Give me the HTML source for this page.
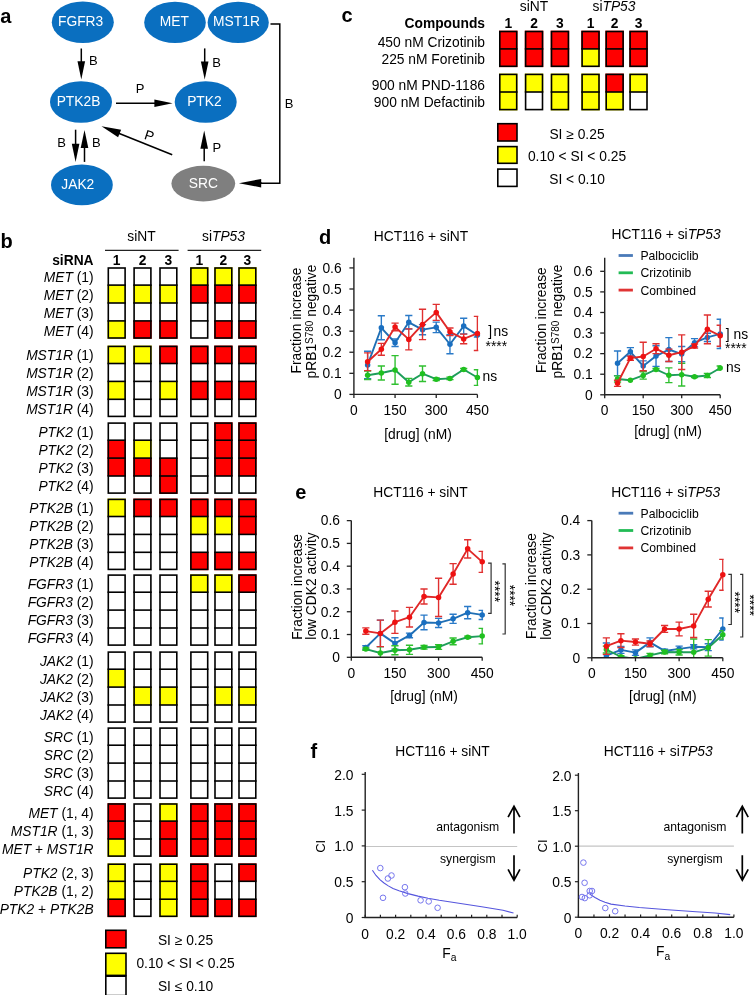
<!DOCTYPE html>
<html><head><meta charset="utf-8"><title>Figure</title>
<style>
html,body{margin:0;padding:0;background:#fff;}
svg{display:block;}
text{font-family:"Liberation Sans",sans-serif;}
</style></head>
<body>
<svg width="754" height="995" viewBox="0 0 754 995" style="font-family:'Liberation Sans',sans-serif;will-change:transform">
<rect x="0" y="0" width="754" height="995" fill="#fff"/>
<ellipse cx="82.8" cy="22.2" rx="31" ry="20.8" fill="#0a6fc0"/>
<text x="80.60" y="26.30" font-size="13.8" text-anchor="middle" fill="#fff" >FGFR3</text>
<ellipse cx="175" cy="22.4" rx="30.8" ry="20.7" fill="#0a6fc0"/>
<text x="174.30" y="26.00" font-size="13.8" text-anchor="middle" fill="#fff" >MET</text>
<ellipse cx="238.2" cy="22.4" rx="30.6" ry="20.7" fill="#0a6fc0"/>
<text x="236.50" y="26.00" font-size="13.8" text-anchor="middle" fill="#fff" >MST1R</text>
<ellipse cx="81" cy="102" rx="31" ry="20.8" fill="#0a6fc0"/>
<text x="78.50" y="106.00" font-size="13.8" text-anchor="middle" fill="#fff" >PTK2B</text>
<ellipse cx="205.7" cy="102" rx="31" ry="20.8" fill="#0a6fc0"/>
<text x="204.40" y="106.00" font-size="13.8" text-anchor="middle" fill="#fff" >PTK2</text>
<ellipse cx="81.9" cy="184.9" rx="30.9" ry="20.4" fill="#0a6fc0"/>
<text x="77.80" y="188.90" font-size="13.8" text-anchor="middle" fill="#fff" >JAK2</text>
<ellipse cx="203.3" cy="183.6" rx="31.9" ry="17.8" fill="#7f7f7f"/>
<text x="203.40" y="188.30" font-size="13.8" text-anchor="middle" fill="#fff" >SRC</text>
<line x1="81.30" y1="48.50" x2="81.30" y2="62.30" stroke="#000" stroke-width="1.5"/>
<polygon points="81.30,79.50 77.50,61.30 85.10,61.30" fill="#000"/>
<line x1="204.70" y1="48.40" x2="204.70" y2="62.40" stroke="#000" stroke-width="1.5"/>
<polygon points="204.70,79.60 200.90,61.40 208.50,61.40" fill="#000"/>
<line x1="116.00" y1="103.20" x2="155.40" y2="103.20" stroke="#000" stroke-width="1.5"/>
<polygon points="172.60,103.20 154.40,107.00 154.40,99.40" fill="#000"/>
<line x1="75.60" y1="129.70" x2="75.60" y2="144.70" stroke="#000" stroke-width="1.5"/>
<polygon points="75.60,161.90 71.80,143.70 79.40,143.70" fill="#000"/>
<line x1="84.50" y1="161.90" x2="84.50" y2="147.10" stroke="#000" stroke-width="1.5"/>
<polygon points="84.50,129.90 88.30,148.10 80.70,148.10" fill="#000"/>
<line x1="172.20" y1="154.70" x2="118.67" y2="133.20" stroke="#000" stroke-width="1.5"/>
<polygon points="101.50,126.30 121.12,129.76 118.07,137.37" fill="#000"/>
<line x1="204.20" y1="161.30" x2="204.20" y2="147.80" stroke="#000" stroke-width="1.5"/>
<polygon points="204.20,130.60 208.00,148.80 200.40,148.80" fill="#000"/>
<polyline points="270.5,24 279.8,24 279.8,183.2 260,183.2" fill="none" stroke="#000" stroke-width="1.5"/>
<line x1="262.00" y1="183.20" x2="260.20" y2="183.20" stroke="#000" stroke-width="1.5"/>
<polygon points="238.90,183.20 261.20,179.00 261.20,187.40" fill="#000"/>
<text x="89.00" y="64.60" font-size="13" text-anchor="start" fill="#000" >B</text>
<text x="212.20" y="66.70" font-size="13" text-anchor="start" fill="#000" >B</text>
<text x="135.80" y="93.30" font-size="13" text-anchor="start" fill="#000" >P</text>
<text x="57.30" y="147.10" font-size="13" text-anchor="start" fill="#000" >B</text>
<text x="91.90" y="147.10" font-size="13" text-anchor="start" fill="#000" >B</text>
<text x="212.40" y="152.00" font-size="13" text-anchor="start" fill="#000" >P</text>
<text x="284.80" y="108.30" font-size="13" text-anchor="start" fill="#000" >B</text>
<text x="0" y="0" font-size="13.8" transform="translate(143.5,138.7) rotate(18)">P</text>
<text x="0.30" y="23.40" font-size="20" text-anchor="start" font-weight="bold" fill="#000" >a</text>
<text x="0.40" y="247.60" font-size="20" text-anchor="start" font-weight="bold" fill="#000" >b</text>
<text x="341.60" y="21.50" font-size="20" text-anchor="start" font-weight="bold" fill="#000" >c</text>
<text x="319.10" y="243.60" font-size="20" text-anchor="start" font-weight="bold" fill="#000" >d</text>
<text x="295.20" y="499.00" font-size="20" text-anchor="start" font-weight="bold" fill="#000" >e</text>
<text x="310.60" y="758.40" font-size="20" text-anchor="start" font-weight="bold" fill="#000" >f</text>
<rect x="107.50" y="267.20" width="18.40" height="17.90" fill="#ffffff"/>
<rect x="107.50" y="285.10" width="18.40" height="17.90" fill="#ffff00"/>
<rect x="107.50" y="303.00" width="18.40" height="17.90" fill="#ffffff"/>
<rect x="107.50" y="320.90" width="18.40" height="17.90" fill="#ffff00"/>
<line x1="107.50" y1="285.10" x2="125.90" y2="285.10" stroke="#000" stroke-width="1.6"/>
<line x1="107.50" y1="303.00" x2="125.90" y2="303.00" stroke="#000" stroke-width="1.6"/>
<line x1="107.50" y1="320.90" x2="125.90" y2="320.90" stroke="#000" stroke-width="1.6"/>
<rect x="108.30" y="268.00" width="16.80" height="70.00" fill="none" stroke="#000" stroke-width="1.6"/>
<rect x="133.30" y="267.20" width="18.40" height="17.90" fill="#ffffff"/>
<rect x="133.30" y="285.10" width="18.40" height="17.90" fill="#ffff00"/>
<rect x="133.30" y="303.00" width="18.40" height="17.90" fill="#ffffff"/>
<rect x="133.30" y="320.90" width="18.40" height="17.90" fill="#ff0000"/>
<line x1="133.30" y1="285.10" x2="151.70" y2="285.10" stroke="#000" stroke-width="1.6"/>
<line x1="133.30" y1="303.00" x2="151.70" y2="303.00" stroke="#000" stroke-width="1.6"/>
<line x1="133.30" y1="320.90" x2="151.70" y2="320.90" stroke="#000" stroke-width="1.6"/>
<rect x="134.10" y="268.00" width="16.80" height="70.00" fill="none" stroke="#000" stroke-width="1.6"/>
<rect x="159.20" y="267.20" width="18.40" height="17.90" fill="#ffffff"/>
<rect x="159.20" y="285.10" width="18.40" height="17.90" fill="#ffff00"/>
<rect x="159.20" y="303.00" width="18.40" height="17.90" fill="#ffffff"/>
<rect x="159.20" y="320.90" width="18.40" height="17.90" fill="#ff0000"/>
<line x1="159.20" y1="285.10" x2="177.60" y2="285.10" stroke="#000" stroke-width="1.6"/>
<line x1="159.20" y1="303.00" x2="177.60" y2="303.00" stroke="#000" stroke-width="1.6"/>
<line x1="159.20" y1="320.90" x2="177.60" y2="320.90" stroke="#000" stroke-width="1.6"/>
<rect x="160.00" y="268.00" width="16.80" height="70.00" fill="none" stroke="#000" stroke-width="1.6"/>
<rect x="190.10" y="267.20" width="18.40" height="17.90" fill="#ffff00"/>
<rect x="190.10" y="285.10" width="18.40" height="17.90" fill="#ff0000"/>
<rect x="190.10" y="303.00" width="18.40" height="17.90" fill="#ffffff"/>
<rect x="190.10" y="320.90" width="18.40" height="17.90" fill="#ffffff"/>
<line x1="190.10" y1="285.10" x2="208.50" y2="285.10" stroke="#000" stroke-width="1.6"/>
<line x1="190.10" y1="303.00" x2="208.50" y2="303.00" stroke="#000" stroke-width="1.6"/>
<line x1="190.10" y1="320.90" x2="208.50" y2="320.90" stroke="#000" stroke-width="1.6"/>
<rect x="190.90" y="268.00" width="16.80" height="70.00" fill="none" stroke="#000" stroke-width="1.6"/>
<rect x="214.20" y="267.20" width="18.40" height="17.90" fill="#ffff00"/>
<rect x="214.20" y="285.10" width="18.40" height="17.90" fill="#ff0000"/>
<rect x="214.20" y="303.00" width="18.40" height="17.90" fill="#ffffff"/>
<rect x="214.20" y="320.90" width="18.40" height="17.90" fill="#ff0000"/>
<line x1="214.20" y1="285.10" x2="232.60" y2="285.10" stroke="#000" stroke-width="1.6"/>
<line x1="214.20" y1="303.00" x2="232.60" y2="303.00" stroke="#000" stroke-width="1.6"/>
<line x1="214.20" y1="320.90" x2="232.60" y2="320.90" stroke="#000" stroke-width="1.6"/>
<rect x="215.00" y="268.00" width="16.80" height="70.00" fill="none" stroke="#000" stroke-width="1.6"/>
<rect x="238.20" y="267.20" width="18.40" height="17.90" fill="#ffff00"/>
<rect x="238.20" y="285.10" width="18.40" height="17.90" fill="#ff0000"/>
<rect x="238.20" y="303.00" width="18.40" height="17.90" fill="#ffffff"/>
<rect x="238.20" y="320.90" width="18.40" height="17.90" fill="#ff0000"/>
<line x1="238.20" y1="285.10" x2="256.60" y2="285.10" stroke="#000" stroke-width="1.6"/>
<line x1="238.20" y1="303.00" x2="256.60" y2="303.00" stroke="#000" stroke-width="1.6"/>
<line x1="238.20" y1="320.90" x2="256.60" y2="320.90" stroke="#000" stroke-width="1.6"/>
<rect x="239.00" y="268.00" width="16.80" height="70.00" fill="none" stroke="#000" stroke-width="1.6"/>
<text x="93.6" y="282.05" font-size="13.8" text-anchor="end"><tspan font-style="italic">MET</tspan> (1)</text>
<text x="93.6" y="299.95" font-size="13.8" text-anchor="end"><tspan font-style="italic">MET</tspan> (2)</text>
<text x="93.6" y="317.85" font-size="13.8" text-anchor="end"><tspan font-style="italic">MET</tspan> (3)</text>
<text x="93.6" y="335.75" font-size="13.8" text-anchor="end"><tspan font-style="italic">MET</tspan> (4)</text>
<rect x="107.50" y="345.60" width="18.40" height="17.90" fill="#ffff00"/>
<rect x="107.50" y="363.50" width="18.40" height="17.90" fill="#ffffff"/>
<rect x="107.50" y="381.40" width="18.40" height="17.90" fill="#ffff00"/>
<rect x="107.50" y="399.30" width="18.40" height="17.90" fill="#ffffff"/>
<line x1="107.50" y1="363.50" x2="125.90" y2="363.50" stroke="#000" stroke-width="1.6"/>
<line x1="107.50" y1="381.40" x2="125.90" y2="381.40" stroke="#000" stroke-width="1.6"/>
<line x1="107.50" y1="399.30" x2="125.90" y2="399.30" stroke="#000" stroke-width="1.6"/>
<rect x="108.30" y="346.40" width="16.80" height="70.00" fill="none" stroke="#000" stroke-width="1.6"/>
<rect x="133.30" y="345.60" width="18.40" height="17.90" fill="#ffff00"/>
<rect x="133.30" y="363.50" width="18.40" height="17.90" fill="#ffffff"/>
<rect x="133.30" y="381.40" width="18.40" height="17.90" fill="#ffffff"/>
<rect x="133.30" y="399.30" width="18.40" height="17.90" fill="#ffffff"/>
<line x1="133.30" y1="363.50" x2="151.70" y2="363.50" stroke="#000" stroke-width="1.6"/>
<line x1="133.30" y1="381.40" x2="151.70" y2="381.40" stroke="#000" stroke-width="1.6"/>
<line x1="133.30" y1="399.30" x2="151.70" y2="399.30" stroke="#000" stroke-width="1.6"/>
<rect x="134.10" y="346.40" width="16.80" height="70.00" fill="none" stroke="#000" stroke-width="1.6"/>
<rect x="159.20" y="345.60" width="18.40" height="17.90" fill="#ff0000"/>
<rect x="159.20" y="363.50" width="18.40" height="17.90" fill="#ffffff"/>
<rect x="159.20" y="381.40" width="18.40" height="17.90" fill="#ffff00"/>
<rect x="159.20" y="399.30" width="18.40" height="17.90" fill="#ffffff"/>
<line x1="159.20" y1="363.50" x2="177.60" y2="363.50" stroke="#000" stroke-width="1.6"/>
<line x1="159.20" y1="381.40" x2="177.60" y2="381.40" stroke="#000" stroke-width="1.6"/>
<line x1="159.20" y1="399.30" x2="177.60" y2="399.30" stroke="#000" stroke-width="1.6"/>
<rect x="160.00" y="346.40" width="16.80" height="70.00" fill="none" stroke="#000" stroke-width="1.6"/>
<rect x="190.10" y="345.60" width="18.40" height="17.90" fill="#ff0000"/>
<rect x="190.10" y="363.50" width="18.40" height="17.90" fill="#ffffff"/>
<rect x="190.10" y="381.40" width="18.40" height="17.90" fill="#ff0000"/>
<rect x="190.10" y="399.30" width="18.40" height="17.90" fill="#ffffff"/>
<line x1="190.10" y1="363.50" x2="208.50" y2="363.50" stroke="#000" stroke-width="1.6"/>
<line x1="190.10" y1="381.40" x2="208.50" y2="381.40" stroke="#000" stroke-width="1.6"/>
<line x1="190.10" y1="399.30" x2="208.50" y2="399.30" stroke="#000" stroke-width="1.6"/>
<rect x="190.90" y="346.40" width="16.80" height="70.00" fill="none" stroke="#000" stroke-width="1.6"/>
<rect x="214.20" y="345.60" width="18.40" height="17.90" fill="#ff0000"/>
<rect x="214.20" y="363.50" width="18.40" height="17.90" fill="#ffffff"/>
<rect x="214.20" y="381.40" width="18.40" height="17.90" fill="#ff0000"/>
<rect x="214.20" y="399.30" width="18.40" height="17.90" fill="#ffffff"/>
<line x1="214.20" y1="363.50" x2="232.60" y2="363.50" stroke="#000" stroke-width="1.6"/>
<line x1="214.20" y1="381.40" x2="232.60" y2="381.40" stroke="#000" stroke-width="1.6"/>
<line x1="214.20" y1="399.30" x2="232.60" y2="399.30" stroke="#000" stroke-width="1.6"/>
<rect x="215.00" y="346.40" width="16.80" height="70.00" fill="none" stroke="#000" stroke-width="1.6"/>
<rect x="238.20" y="345.60" width="18.40" height="17.90" fill="#ff0000"/>
<rect x="238.20" y="363.50" width="18.40" height="17.90" fill="#ffffff"/>
<rect x="238.20" y="381.40" width="18.40" height="17.90" fill="#ff0000"/>
<rect x="238.20" y="399.30" width="18.40" height="17.90" fill="#ffffff"/>
<line x1="238.20" y1="363.50" x2="256.60" y2="363.50" stroke="#000" stroke-width="1.6"/>
<line x1="238.20" y1="381.40" x2="256.60" y2="381.40" stroke="#000" stroke-width="1.6"/>
<line x1="238.20" y1="399.30" x2="256.60" y2="399.30" stroke="#000" stroke-width="1.6"/>
<rect x="239.00" y="346.40" width="16.80" height="70.00" fill="none" stroke="#000" stroke-width="1.6"/>
<text x="93.6" y="360.45" font-size="13.8" text-anchor="end"><tspan font-style="italic">MST1R</tspan> (1)</text>
<text x="93.6" y="378.35" font-size="13.8" text-anchor="end"><tspan font-style="italic">MST1R</tspan> (2)</text>
<text x="93.6" y="396.25" font-size="13.8" text-anchor="end"><tspan font-style="italic">MST1R</tspan> (3)</text>
<text x="93.6" y="414.15" font-size="13.8" text-anchor="end"><tspan font-style="italic">MST1R</tspan> (4)</text>
<rect x="107.50" y="422.30" width="18.40" height="17.90" fill="#ffffff"/>
<rect x="107.50" y="440.20" width="18.40" height="17.90" fill="#ff0000"/>
<rect x="107.50" y="458.10" width="18.40" height="17.90" fill="#ff0000"/>
<rect x="107.50" y="476.00" width="18.40" height="17.90" fill="#ffffff"/>
<line x1="107.50" y1="440.20" x2="125.90" y2="440.20" stroke="#000" stroke-width="1.6"/>
<line x1="107.50" y1="458.10" x2="125.90" y2="458.10" stroke="#000" stroke-width="1.6"/>
<line x1="107.50" y1="476.00" x2="125.90" y2="476.00" stroke="#000" stroke-width="1.6"/>
<rect x="108.30" y="423.10" width="16.80" height="70.00" fill="none" stroke="#000" stroke-width="1.6"/>
<rect x="133.30" y="422.30" width="18.40" height="17.90" fill="#ffffff"/>
<rect x="133.30" y="440.20" width="18.40" height="17.90" fill="#ffff00"/>
<rect x="133.30" y="458.10" width="18.40" height="17.90" fill="#ff0000"/>
<rect x="133.30" y="476.00" width="18.40" height="17.90" fill="#ffffff"/>
<line x1="133.30" y1="440.20" x2="151.70" y2="440.20" stroke="#000" stroke-width="1.6"/>
<line x1="133.30" y1="458.10" x2="151.70" y2="458.10" stroke="#000" stroke-width="1.6"/>
<line x1="133.30" y1="476.00" x2="151.70" y2="476.00" stroke="#000" stroke-width="1.6"/>
<rect x="134.10" y="423.10" width="16.80" height="70.00" fill="none" stroke="#000" stroke-width="1.6"/>
<rect x="159.20" y="422.30" width="18.40" height="17.90" fill="#ffffff"/>
<rect x="159.20" y="440.20" width="18.40" height="17.90" fill="#ffffff"/>
<rect x="159.20" y="458.10" width="18.40" height="17.90" fill="#ff0000"/>
<rect x="159.20" y="476.00" width="18.40" height="17.90" fill="#ff0000"/>
<line x1="159.20" y1="440.20" x2="177.60" y2="440.20" stroke="#000" stroke-width="1.6"/>
<line x1="159.20" y1="458.10" x2="177.60" y2="458.10" stroke="#000" stroke-width="1.6"/>
<line x1="159.20" y1="476.00" x2="177.60" y2="476.00" stroke="#000" stroke-width="1.6"/>
<rect x="160.00" y="423.10" width="16.80" height="70.00" fill="none" stroke="#000" stroke-width="1.6"/>
<rect x="190.10" y="422.30" width="18.40" height="17.90" fill="#ffffff"/>
<rect x="190.10" y="440.20" width="18.40" height="17.90" fill="#ffffff"/>
<rect x="190.10" y="458.10" width="18.40" height="17.90" fill="#ffffff"/>
<rect x="190.10" y="476.00" width="18.40" height="17.90" fill="#ffffff"/>
<line x1="190.10" y1="440.20" x2="208.50" y2="440.20" stroke="#000" stroke-width="1.6"/>
<line x1="190.10" y1="458.10" x2="208.50" y2="458.10" stroke="#000" stroke-width="1.6"/>
<line x1="190.10" y1="476.00" x2="208.50" y2="476.00" stroke="#000" stroke-width="1.6"/>
<rect x="190.90" y="423.10" width="16.80" height="70.00" fill="none" stroke="#000" stroke-width="1.6"/>
<rect x="214.20" y="422.30" width="18.40" height="17.90" fill="#ff0000"/>
<rect x="214.20" y="440.20" width="18.40" height="17.90" fill="#ff0000"/>
<rect x="214.20" y="458.10" width="18.40" height="17.90" fill="#ff0000"/>
<rect x="214.20" y="476.00" width="18.40" height="17.90" fill="#ffffff"/>
<line x1="214.20" y1="440.20" x2="232.60" y2="440.20" stroke="#000" stroke-width="1.6"/>
<line x1="214.20" y1="458.10" x2="232.60" y2="458.10" stroke="#000" stroke-width="1.6"/>
<line x1="214.20" y1="476.00" x2="232.60" y2="476.00" stroke="#000" stroke-width="1.6"/>
<rect x="215.00" y="423.10" width="16.80" height="70.00" fill="none" stroke="#000" stroke-width="1.6"/>
<rect x="238.20" y="422.30" width="18.40" height="17.90" fill="#ff0000"/>
<rect x="238.20" y="440.20" width="18.40" height="17.90" fill="#ff0000"/>
<rect x="238.20" y="458.10" width="18.40" height="17.90" fill="#ff0000"/>
<rect x="238.20" y="476.00" width="18.40" height="17.90" fill="#ffffff"/>
<line x1="238.20" y1="440.20" x2="256.60" y2="440.20" stroke="#000" stroke-width="1.6"/>
<line x1="238.20" y1="458.10" x2="256.60" y2="458.10" stroke="#000" stroke-width="1.6"/>
<line x1="238.20" y1="476.00" x2="256.60" y2="476.00" stroke="#000" stroke-width="1.6"/>
<rect x="239.00" y="423.10" width="16.80" height="70.00" fill="none" stroke="#000" stroke-width="1.6"/>
<text x="93.6" y="437.15" font-size="13.8" text-anchor="end"><tspan font-style="italic">PTK2</tspan> (1)</text>
<text x="93.6" y="455.05" font-size="13.8" text-anchor="end"><tspan font-style="italic">PTK2</tspan> (2)</text>
<text x="93.6" y="472.95" font-size="13.8" text-anchor="end"><tspan font-style="italic">PTK2</tspan> (3)</text>
<text x="93.6" y="490.85" font-size="13.8" text-anchor="end"><tspan font-style="italic">PTK2</tspan> (4)</text>
<rect x="107.50" y="498.60" width="18.40" height="17.90" fill="#ffff00"/>
<rect x="107.50" y="516.50" width="18.40" height="17.90" fill="#ffffff"/>
<rect x="107.50" y="534.40" width="18.40" height="17.90" fill="#ffffff"/>
<rect x="107.50" y="552.30" width="18.40" height="17.90" fill="#ffffff"/>
<line x1="107.50" y1="516.50" x2="125.90" y2="516.50" stroke="#000" stroke-width="1.6"/>
<line x1="107.50" y1="534.40" x2="125.90" y2="534.40" stroke="#000" stroke-width="1.6"/>
<line x1="107.50" y1="552.30" x2="125.90" y2="552.30" stroke="#000" stroke-width="1.6"/>
<rect x="108.30" y="499.40" width="16.80" height="70.00" fill="none" stroke="#000" stroke-width="1.6"/>
<rect x="133.30" y="498.60" width="18.40" height="17.90" fill="#ff0000"/>
<rect x="133.30" y="516.50" width="18.40" height="17.90" fill="#ffffff"/>
<rect x="133.30" y="534.40" width="18.40" height="17.90" fill="#ffffff"/>
<rect x="133.30" y="552.30" width="18.40" height="17.90" fill="#ffffff"/>
<line x1="133.30" y1="516.50" x2="151.70" y2="516.50" stroke="#000" stroke-width="1.6"/>
<line x1="133.30" y1="534.40" x2="151.70" y2="534.40" stroke="#000" stroke-width="1.6"/>
<line x1="133.30" y1="552.30" x2="151.70" y2="552.30" stroke="#000" stroke-width="1.6"/>
<rect x="134.10" y="499.40" width="16.80" height="70.00" fill="none" stroke="#000" stroke-width="1.6"/>
<rect x="159.20" y="498.60" width="18.40" height="17.90" fill="#ff0000"/>
<rect x="159.20" y="516.50" width="18.40" height="17.90" fill="#ffffff"/>
<rect x="159.20" y="534.40" width="18.40" height="17.90" fill="#ffffff"/>
<rect x="159.20" y="552.30" width="18.40" height="17.90" fill="#ffffff"/>
<line x1="159.20" y1="516.50" x2="177.60" y2="516.50" stroke="#000" stroke-width="1.6"/>
<line x1="159.20" y1="534.40" x2="177.60" y2="534.40" stroke="#000" stroke-width="1.6"/>
<line x1="159.20" y1="552.30" x2="177.60" y2="552.30" stroke="#000" stroke-width="1.6"/>
<rect x="160.00" y="499.40" width="16.80" height="70.00" fill="none" stroke="#000" stroke-width="1.6"/>
<rect x="190.10" y="498.60" width="18.40" height="17.90" fill="#ff0000"/>
<rect x="190.10" y="516.50" width="18.40" height="17.90" fill="#ffff00"/>
<rect x="190.10" y="534.40" width="18.40" height="17.90" fill="#ffffff"/>
<rect x="190.10" y="552.30" width="18.40" height="17.90" fill="#ff0000"/>
<line x1="190.10" y1="516.50" x2="208.50" y2="516.50" stroke="#000" stroke-width="1.6"/>
<line x1="190.10" y1="534.40" x2="208.50" y2="534.40" stroke="#000" stroke-width="1.6"/>
<line x1="190.10" y1="552.30" x2="208.50" y2="552.30" stroke="#000" stroke-width="1.6"/>
<rect x="190.90" y="499.40" width="16.80" height="70.00" fill="none" stroke="#000" stroke-width="1.6"/>
<rect x="214.20" y="498.60" width="18.40" height="17.90" fill="#ff0000"/>
<rect x="214.20" y="516.50" width="18.40" height="17.90" fill="#ffff00"/>
<rect x="214.20" y="534.40" width="18.40" height="17.90" fill="#ffffff"/>
<rect x="214.20" y="552.30" width="18.40" height="17.90" fill="#ff0000"/>
<line x1="214.20" y1="516.50" x2="232.60" y2="516.50" stroke="#000" stroke-width="1.6"/>
<line x1="214.20" y1="534.40" x2="232.60" y2="534.40" stroke="#000" stroke-width="1.6"/>
<line x1="214.20" y1="552.30" x2="232.60" y2="552.30" stroke="#000" stroke-width="1.6"/>
<rect x="215.00" y="499.40" width="16.80" height="70.00" fill="none" stroke="#000" stroke-width="1.6"/>
<rect x="238.20" y="498.60" width="18.40" height="17.90" fill="#ff0000"/>
<rect x="238.20" y="516.50" width="18.40" height="17.90" fill="#ff0000"/>
<rect x="238.20" y="534.40" width="18.40" height="17.90" fill="#ffffff"/>
<rect x="238.20" y="552.30" width="18.40" height="17.90" fill="#ff0000"/>
<line x1="238.20" y1="516.50" x2="256.60" y2="516.50" stroke="#000" stroke-width="1.6"/>
<line x1="238.20" y1="534.40" x2="256.60" y2="534.40" stroke="#000" stroke-width="1.6"/>
<line x1="238.20" y1="552.30" x2="256.60" y2="552.30" stroke="#000" stroke-width="1.6"/>
<rect x="239.00" y="499.40" width="16.80" height="70.00" fill="none" stroke="#000" stroke-width="1.6"/>
<text x="93.6" y="513.45" font-size="13.8" text-anchor="end"><tspan font-style="italic">PTK2B</tspan> (1)</text>
<text x="93.6" y="531.35" font-size="13.8" text-anchor="end"><tspan font-style="italic">PTK2B</tspan> (2)</text>
<text x="93.6" y="549.25" font-size="13.8" text-anchor="end"><tspan font-style="italic">PTK2B</tspan> (3)</text>
<text x="93.6" y="567.15" font-size="13.8" text-anchor="end"><tspan font-style="italic">PTK2B</tspan> (4)</text>
<rect x="107.50" y="574.30" width="18.40" height="17.90" fill="#ffffff"/>
<rect x="107.50" y="592.20" width="18.40" height="17.90" fill="#ffffff"/>
<rect x="107.50" y="610.10" width="18.40" height="17.90" fill="#ffffff"/>
<rect x="107.50" y="628.00" width="18.40" height="17.90" fill="#ffffff"/>
<line x1="107.50" y1="592.20" x2="125.90" y2="592.20" stroke="#000" stroke-width="1.6"/>
<line x1="107.50" y1="610.10" x2="125.90" y2="610.10" stroke="#000" stroke-width="1.6"/>
<line x1="107.50" y1="628.00" x2="125.90" y2="628.00" stroke="#000" stroke-width="1.6"/>
<rect x="108.30" y="575.10" width="16.80" height="70.00" fill="none" stroke="#000" stroke-width="1.6"/>
<rect x="133.30" y="574.30" width="18.40" height="17.90" fill="#ffffff"/>
<rect x="133.30" y="592.20" width="18.40" height="17.90" fill="#ffffff"/>
<rect x="133.30" y="610.10" width="18.40" height="17.90" fill="#ffffff"/>
<rect x="133.30" y="628.00" width="18.40" height="17.90" fill="#ffffff"/>
<line x1="133.30" y1="592.20" x2="151.70" y2="592.20" stroke="#000" stroke-width="1.6"/>
<line x1="133.30" y1="610.10" x2="151.70" y2="610.10" stroke="#000" stroke-width="1.6"/>
<line x1="133.30" y1="628.00" x2="151.70" y2="628.00" stroke="#000" stroke-width="1.6"/>
<rect x="134.10" y="575.10" width="16.80" height="70.00" fill="none" stroke="#000" stroke-width="1.6"/>
<rect x="159.20" y="574.30" width="18.40" height="17.90" fill="#ffffff"/>
<rect x="159.20" y="592.20" width="18.40" height="17.90" fill="#ffffff"/>
<rect x="159.20" y="610.10" width="18.40" height="17.90" fill="#ffffff"/>
<rect x="159.20" y="628.00" width="18.40" height="17.90" fill="#ffffff"/>
<line x1="159.20" y1="592.20" x2="177.60" y2="592.20" stroke="#000" stroke-width="1.6"/>
<line x1="159.20" y1="610.10" x2="177.60" y2="610.10" stroke="#000" stroke-width="1.6"/>
<line x1="159.20" y1="628.00" x2="177.60" y2="628.00" stroke="#000" stroke-width="1.6"/>
<rect x="160.00" y="575.10" width="16.80" height="70.00" fill="none" stroke="#000" stroke-width="1.6"/>
<rect x="190.10" y="574.30" width="18.40" height="17.90" fill="#ffff00"/>
<rect x="190.10" y="592.20" width="18.40" height="17.90" fill="#ffffff"/>
<rect x="190.10" y="610.10" width="18.40" height="17.90" fill="#ffffff"/>
<rect x="190.10" y="628.00" width="18.40" height="17.90" fill="#ffffff"/>
<line x1="190.10" y1="592.20" x2="208.50" y2="592.20" stroke="#000" stroke-width="1.6"/>
<line x1="190.10" y1="610.10" x2="208.50" y2="610.10" stroke="#000" stroke-width="1.6"/>
<line x1="190.10" y1="628.00" x2="208.50" y2="628.00" stroke="#000" stroke-width="1.6"/>
<rect x="190.90" y="575.10" width="16.80" height="70.00" fill="none" stroke="#000" stroke-width="1.6"/>
<rect x="214.20" y="574.30" width="18.40" height="17.90" fill="#ffff00"/>
<rect x="214.20" y="592.20" width="18.40" height="17.90" fill="#ffffff"/>
<rect x="214.20" y="610.10" width="18.40" height="17.90" fill="#ffffff"/>
<rect x="214.20" y="628.00" width="18.40" height="17.90" fill="#ffffff"/>
<line x1="214.20" y1="592.20" x2="232.60" y2="592.20" stroke="#000" stroke-width="1.6"/>
<line x1="214.20" y1="610.10" x2="232.60" y2="610.10" stroke="#000" stroke-width="1.6"/>
<line x1="214.20" y1="628.00" x2="232.60" y2="628.00" stroke="#000" stroke-width="1.6"/>
<rect x="215.00" y="575.10" width="16.80" height="70.00" fill="none" stroke="#000" stroke-width="1.6"/>
<rect x="238.20" y="574.30" width="18.40" height="17.90" fill="#ff0000"/>
<rect x="238.20" y="592.20" width="18.40" height="17.90" fill="#ffffff"/>
<rect x="238.20" y="610.10" width="18.40" height="17.90" fill="#ffffff"/>
<rect x="238.20" y="628.00" width="18.40" height="17.90" fill="#ffffff"/>
<line x1="238.20" y1="592.20" x2="256.60" y2="592.20" stroke="#000" stroke-width="1.6"/>
<line x1="238.20" y1="610.10" x2="256.60" y2="610.10" stroke="#000" stroke-width="1.6"/>
<line x1="238.20" y1="628.00" x2="256.60" y2="628.00" stroke="#000" stroke-width="1.6"/>
<rect x="239.00" y="575.10" width="16.80" height="70.00" fill="none" stroke="#000" stroke-width="1.6"/>
<text x="93.6" y="589.15" font-size="13.8" text-anchor="end"><tspan font-style="italic">FGFR3</tspan> (1)</text>
<text x="93.6" y="607.05" font-size="13.8" text-anchor="end"><tspan font-style="italic">FGFR3</tspan> (2)</text>
<text x="93.6" y="624.95" font-size="13.8" text-anchor="end"><tspan font-style="italic">FGFR3</tspan> (3)</text>
<text x="93.6" y="642.85" font-size="13.8" text-anchor="end"><tspan font-style="italic">FGFR3</tspan> (4)</text>
<rect x="107.50" y="651.30" width="18.40" height="17.90" fill="#ffffff"/>
<rect x="107.50" y="669.20" width="18.40" height="17.90" fill="#ffff00"/>
<rect x="107.50" y="687.10" width="18.40" height="17.90" fill="#ffffff"/>
<rect x="107.50" y="705.00" width="18.40" height="17.90" fill="#ffffff"/>
<line x1="107.50" y1="669.20" x2="125.90" y2="669.20" stroke="#000" stroke-width="1.6"/>
<line x1="107.50" y1="687.10" x2="125.90" y2="687.10" stroke="#000" stroke-width="1.6"/>
<line x1="107.50" y1="705.00" x2="125.90" y2="705.00" stroke="#000" stroke-width="1.6"/>
<rect x="108.30" y="652.10" width="16.80" height="70.00" fill="none" stroke="#000" stroke-width="1.6"/>
<rect x="133.30" y="651.30" width="18.40" height="17.90" fill="#ffffff"/>
<rect x="133.30" y="669.20" width="18.40" height="17.90" fill="#ffffff"/>
<rect x="133.30" y="687.10" width="18.40" height="17.90" fill="#ffff00"/>
<rect x="133.30" y="705.00" width="18.40" height="17.90" fill="#ffffff"/>
<line x1="133.30" y1="669.20" x2="151.70" y2="669.20" stroke="#000" stroke-width="1.6"/>
<line x1="133.30" y1="687.10" x2="151.70" y2="687.10" stroke="#000" stroke-width="1.6"/>
<line x1="133.30" y1="705.00" x2="151.70" y2="705.00" stroke="#000" stroke-width="1.6"/>
<rect x="134.10" y="652.10" width="16.80" height="70.00" fill="none" stroke="#000" stroke-width="1.6"/>
<rect x="159.20" y="651.30" width="18.40" height="17.90" fill="#ffffff"/>
<rect x="159.20" y="669.20" width="18.40" height="17.90" fill="#ffffff"/>
<rect x="159.20" y="687.10" width="18.40" height="17.90" fill="#ffff00"/>
<rect x="159.20" y="705.00" width="18.40" height="17.90" fill="#ffffff"/>
<line x1="159.20" y1="669.20" x2="177.60" y2="669.20" stroke="#000" stroke-width="1.6"/>
<line x1="159.20" y1="687.10" x2="177.60" y2="687.10" stroke="#000" stroke-width="1.6"/>
<line x1="159.20" y1="705.00" x2="177.60" y2="705.00" stroke="#000" stroke-width="1.6"/>
<rect x="160.00" y="652.10" width="16.80" height="70.00" fill="none" stroke="#000" stroke-width="1.6"/>
<rect x="190.10" y="651.30" width="18.40" height="17.90" fill="#ffffff"/>
<rect x="190.10" y="669.20" width="18.40" height="17.90" fill="#ffffff"/>
<rect x="190.10" y="687.10" width="18.40" height="17.90" fill="#ffffff"/>
<rect x="190.10" y="705.00" width="18.40" height="17.90" fill="#ffffff"/>
<line x1="190.10" y1="669.20" x2="208.50" y2="669.20" stroke="#000" stroke-width="1.6"/>
<line x1="190.10" y1="687.10" x2="208.50" y2="687.10" stroke="#000" stroke-width="1.6"/>
<line x1="190.10" y1="705.00" x2="208.50" y2="705.00" stroke="#000" stroke-width="1.6"/>
<rect x="190.90" y="652.10" width="16.80" height="70.00" fill="none" stroke="#000" stroke-width="1.6"/>
<rect x="214.20" y="651.30" width="18.40" height="17.90" fill="#ffffff"/>
<rect x="214.20" y="669.20" width="18.40" height="17.90" fill="#ffffff"/>
<rect x="214.20" y="687.10" width="18.40" height="17.90" fill="#ffff00"/>
<rect x="214.20" y="705.00" width="18.40" height="17.90" fill="#ffffff"/>
<line x1="214.20" y1="669.20" x2="232.60" y2="669.20" stroke="#000" stroke-width="1.6"/>
<line x1="214.20" y1="687.10" x2="232.60" y2="687.10" stroke="#000" stroke-width="1.6"/>
<line x1="214.20" y1="705.00" x2="232.60" y2="705.00" stroke="#000" stroke-width="1.6"/>
<rect x="215.00" y="652.10" width="16.80" height="70.00" fill="none" stroke="#000" stroke-width="1.6"/>
<rect x="238.20" y="651.30" width="18.40" height="17.90" fill="#ffffff"/>
<rect x="238.20" y="669.20" width="18.40" height="17.90" fill="#ffffff"/>
<rect x="238.20" y="687.10" width="18.40" height="17.90" fill="#ffff00"/>
<rect x="238.20" y="705.00" width="18.40" height="17.90" fill="#ffffff"/>
<line x1="238.20" y1="669.20" x2="256.60" y2="669.20" stroke="#000" stroke-width="1.6"/>
<line x1="238.20" y1="687.10" x2="256.60" y2="687.10" stroke="#000" stroke-width="1.6"/>
<line x1="238.20" y1="705.00" x2="256.60" y2="705.00" stroke="#000" stroke-width="1.6"/>
<rect x="239.00" y="652.10" width="16.80" height="70.00" fill="none" stroke="#000" stroke-width="1.6"/>
<text x="93.6" y="666.15" font-size="13.8" text-anchor="end"><tspan font-style="italic">JAK2</tspan> (1)</text>
<text x="93.6" y="684.05" font-size="13.8" text-anchor="end"><tspan font-style="italic">JAK2</tspan> (2)</text>
<text x="93.6" y="701.95" font-size="13.8" text-anchor="end"><tspan font-style="italic">JAK2</tspan> (3)</text>
<text x="93.6" y="719.85" font-size="13.8" text-anchor="end"><tspan font-style="italic">JAK2</tspan> (4)</text>
<rect x="107.50" y="727.30" width="18.40" height="17.90" fill="#ffffff"/>
<rect x="107.50" y="745.20" width="18.40" height="17.90" fill="#ffffff"/>
<rect x="107.50" y="763.10" width="18.40" height="17.90" fill="#ffffff"/>
<rect x="107.50" y="781.00" width="18.40" height="17.90" fill="#ffffff"/>
<line x1="107.50" y1="745.20" x2="125.90" y2="745.20" stroke="#000" stroke-width="1.6"/>
<line x1="107.50" y1="763.10" x2="125.90" y2="763.10" stroke="#000" stroke-width="1.6"/>
<line x1="107.50" y1="781.00" x2="125.90" y2="781.00" stroke="#000" stroke-width="1.6"/>
<rect x="108.30" y="728.10" width="16.80" height="70.00" fill="none" stroke="#000" stroke-width="1.6"/>
<rect x="133.30" y="727.30" width="18.40" height="17.90" fill="#ffffff"/>
<rect x="133.30" y="745.20" width="18.40" height="17.90" fill="#ffffff"/>
<rect x="133.30" y="763.10" width="18.40" height="17.90" fill="#ffffff"/>
<rect x="133.30" y="781.00" width="18.40" height="17.90" fill="#ffffff"/>
<line x1="133.30" y1="745.20" x2="151.70" y2="745.20" stroke="#000" stroke-width="1.6"/>
<line x1="133.30" y1="763.10" x2="151.70" y2="763.10" stroke="#000" stroke-width="1.6"/>
<line x1="133.30" y1="781.00" x2="151.70" y2="781.00" stroke="#000" stroke-width="1.6"/>
<rect x="134.10" y="728.10" width="16.80" height="70.00" fill="none" stroke="#000" stroke-width="1.6"/>
<rect x="159.20" y="727.30" width="18.40" height="17.90" fill="#ffffff"/>
<rect x="159.20" y="745.20" width="18.40" height="17.90" fill="#ffffff"/>
<rect x="159.20" y="763.10" width="18.40" height="17.90" fill="#ffffff"/>
<rect x="159.20" y="781.00" width="18.40" height="17.90" fill="#ffffff"/>
<line x1="159.20" y1="745.20" x2="177.60" y2="745.20" stroke="#000" stroke-width="1.6"/>
<line x1="159.20" y1="763.10" x2="177.60" y2="763.10" stroke="#000" stroke-width="1.6"/>
<line x1="159.20" y1="781.00" x2="177.60" y2="781.00" stroke="#000" stroke-width="1.6"/>
<rect x="160.00" y="728.10" width="16.80" height="70.00" fill="none" stroke="#000" stroke-width="1.6"/>
<rect x="190.10" y="727.30" width="18.40" height="17.90" fill="#ffffff"/>
<rect x="190.10" y="745.20" width="18.40" height="17.90" fill="#ffffff"/>
<rect x="190.10" y="763.10" width="18.40" height="17.90" fill="#ffffff"/>
<rect x="190.10" y="781.00" width="18.40" height="17.90" fill="#ffffff"/>
<line x1="190.10" y1="745.20" x2="208.50" y2="745.20" stroke="#000" stroke-width="1.6"/>
<line x1="190.10" y1="763.10" x2="208.50" y2="763.10" stroke="#000" stroke-width="1.6"/>
<line x1="190.10" y1="781.00" x2="208.50" y2="781.00" stroke="#000" stroke-width="1.6"/>
<rect x="190.90" y="728.10" width="16.80" height="70.00" fill="none" stroke="#000" stroke-width="1.6"/>
<rect x="214.20" y="727.30" width="18.40" height="17.90" fill="#ffffff"/>
<rect x="214.20" y="745.20" width="18.40" height="17.90" fill="#ffffff"/>
<rect x="214.20" y="763.10" width="18.40" height="17.90" fill="#ffffff"/>
<rect x="214.20" y="781.00" width="18.40" height="17.90" fill="#ffffff"/>
<line x1="214.20" y1="745.20" x2="232.60" y2="745.20" stroke="#000" stroke-width="1.6"/>
<line x1="214.20" y1="763.10" x2="232.60" y2="763.10" stroke="#000" stroke-width="1.6"/>
<line x1="214.20" y1="781.00" x2="232.60" y2="781.00" stroke="#000" stroke-width="1.6"/>
<rect x="215.00" y="728.10" width="16.80" height="70.00" fill="none" stroke="#000" stroke-width="1.6"/>
<rect x="238.20" y="727.30" width="18.40" height="17.90" fill="#ffffff"/>
<rect x="238.20" y="745.20" width="18.40" height="17.90" fill="#ffffff"/>
<rect x="238.20" y="763.10" width="18.40" height="17.90" fill="#ffffff"/>
<rect x="238.20" y="781.00" width="18.40" height="17.90" fill="#ffffff"/>
<line x1="238.20" y1="745.20" x2="256.60" y2="745.20" stroke="#000" stroke-width="1.6"/>
<line x1="238.20" y1="763.10" x2="256.60" y2="763.10" stroke="#000" stroke-width="1.6"/>
<line x1="238.20" y1="781.00" x2="256.60" y2="781.00" stroke="#000" stroke-width="1.6"/>
<rect x="239.00" y="728.10" width="16.80" height="70.00" fill="none" stroke="#000" stroke-width="1.6"/>
<text x="93.6" y="742.15" font-size="13.8" text-anchor="end"><tspan font-style="italic">SRC</tspan> (1)</text>
<text x="93.6" y="760.05" font-size="13.8" text-anchor="end"><tspan font-style="italic">SRC</tspan> (2)</text>
<text x="93.6" y="777.95" font-size="13.8" text-anchor="end"><tspan font-style="italic">SRC</tspan> (3)</text>
<text x="93.6" y="795.85" font-size="13.8" text-anchor="end"><tspan font-style="italic">SRC</tspan> (4)</text>
<rect x="107.50" y="803.20" width="18.40" height="17.90" fill="#ff0000"/>
<rect x="107.50" y="821.10" width="18.40" height="17.90" fill="#ff0000"/>
<rect x="107.50" y="839.00" width="18.40" height="17.90" fill="#ffff00"/>
<line x1="107.50" y1="821.10" x2="125.90" y2="821.10" stroke="#000" stroke-width="1.6"/>
<line x1="107.50" y1="839.00" x2="125.90" y2="839.00" stroke="#000" stroke-width="1.6"/>
<rect x="108.30" y="804.00" width="16.80" height="52.10" fill="none" stroke="#000" stroke-width="1.6"/>
<rect x="133.30" y="803.20" width="18.40" height="17.90" fill="#ffffff"/>
<rect x="133.30" y="821.10" width="18.40" height="17.90" fill="#ffffff"/>
<rect x="133.30" y="839.00" width="18.40" height="17.90" fill="#ffffff"/>
<line x1="133.30" y1="821.10" x2="151.70" y2="821.10" stroke="#000" stroke-width="1.6"/>
<line x1="133.30" y1="839.00" x2="151.70" y2="839.00" stroke="#000" stroke-width="1.6"/>
<rect x="134.10" y="804.00" width="16.80" height="52.10" fill="none" stroke="#000" stroke-width="1.6"/>
<rect x="159.20" y="803.20" width="18.40" height="17.90" fill="#ffff00"/>
<rect x="159.20" y="821.10" width="18.40" height="17.90" fill="#ff0000"/>
<rect x="159.20" y="839.00" width="18.40" height="17.90" fill="#ff0000"/>
<line x1="159.20" y1="821.10" x2="177.60" y2="821.10" stroke="#000" stroke-width="1.6"/>
<line x1="159.20" y1="839.00" x2="177.60" y2="839.00" stroke="#000" stroke-width="1.6"/>
<rect x="160.00" y="804.00" width="16.80" height="52.10" fill="none" stroke="#000" stroke-width="1.6"/>
<rect x="190.10" y="803.20" width="18.40" height="17.90" fill="#ff0000"/>
<rect x="190.10" y="821.10" width="18.40" height="17.90" fill="#ff0000"/>
<rect x="190.10" y="839.00" width="18.40" height="17.90" fill="#ff0000"/>
<line x1="190.10" y1="821.10" x2="208.50" y2="821.10" stroke="#000" stroke-width="1.6"/>
<line x1="190.10" y1="839.00" x2="208.50" y2="839.00" stroke="#000" stroke-width="1.6"/>
<rect x="190.90" y="804.00" width="16.80" height="52.10" fill="none" stroke="#000" stroke-width="1.6"/>
<rect x="214.20" y="803.20" width="18.40" height="17.90" fill="#ff0000"/>
<rect x="214.20" y="821.10" width="18.40" height="17.90" fill="#ff0000"/>
<rect x="214.20" y="839.00" width="18.40" height="17.90" fill="#ff0000"/>
<line x1="214.20" y1="821.10" x2="232.60" y2="821.10" stroke="#000" stroke-width="1.6"/>
<line x1="214.20" y1="839.00" x2="232.60" y2="839.00" stroke="#000" stroke-width="1.6"/>
<rect x="215.00" y="804.00" width="16.80" height="52.10" fill="none" stroke="#000" stroke-width="1.6"/>
<rect x="238.20" y="803.20" width="18.40" height="17.90" fill="#ff0000"/>
<rect x="238.20" y="821.10" width="18.40" height="17.90" fill="#ff0000"/>
<rect x="238.20" y="839.00" width="18.40" height="17.90" fill="#ff0000"/>
<line x1="238.20" y1="821.10" x2="256.60" y2="821.10" stroke="#000" stroke-width="1.6"/>
<line x1="238.20" y1="839.00" x2="256.60" y2="839.00" stroke="#000" stroke-width="1.6"/>
<rect x="239.00" y="804.00" width="16.80" height="52.10" fill="none" stroke="#000" stroke-width="1.6"/>
<text x="93.6" y="818.05" font-size="13.8" text-anchor="end"><tspan font-style="italic">MET</tspan> (1, 4)</text>
<text x="93.6" y="835.95" font-size="13.8" text-anchor="end"><tspan font-style="italic">MST1R</tspan> (1, 3)</text>
<text x="93.6" y="853.85" font-size="13.8" text-anchor="end"><tspan font-style="italic">MET</tspan> + <tspan font-style="italic">MST1R</tspan></text>
<rect x="107.50" y="863.40" width="18.40" height="17.90" fill="#ffff00"/>
<rect x="107.50" y="881.30" width="18.40" height="17.90" fill="#ffff00"/>
<rect x="107.50" y="899.20" width="18.40" height="17.90" fill="#ff0000"/>
<line x1="107.50" y1="881.30" x2="125.90" y2="881.30" stroke="#000" stroke-width="1.6"/>
<line x1="107.50" y1="899.20" x2="125.90" y2="899.20" stroke="#000" stroke-width="1.6"/>
<rect x="108.30" y="864.20" width="16.80" height="52.10" fill="none" stroke="#000" stroke-width="1.6"/>
<rect x="133.30" y="863.40" width="18.40" height="17.90" fill="#ffffff"/>
<rect x="133.30" y="881.30" width="18.40" height="17.90" fill="#ffffff"/>
<rect x="133.30" y="899.20" width="18.40" height="17.90" fill="#ffffff"/>
<line x1="133.30" y1="881.30" x2="151.70" y2="881.30" stroke="#000" stroke-width="1.6"/>
<line x1="133.30" y1="899.20" x2="151.70" y2="899.20" stroke="#000" stroke-width="1.6"/>
<rect x="134.10" y="864.20" width="16.80" height="52.10" fill="none" stroke="#000" stroke-width="1.6"/>
<rect x="159.20" y="863.40" width="18.40" height="17.90" fill="#ffff00"/>
<rect x="159.20" y="881.30" width="18.40" height="17.90" fill="#ffff00"/>
<rect x="159.20" y="899.20" width="18.40" height="17.90" fill="#ffff00"/>
<line x1="159.20" y1="881.30" x2="177.60" y2="881.30" stroke="#000" stroke-width="1.6"/>
<line x1="159.20" y1="899.20" x2="177.60" y2="899.20" stroke="#000" stroke-width="1.6"/>
<rect x="160.00" y="864.20" width="16.80" height="52.10" fill="none" stroke="#000" stroke-width="1.6"/>
<rect x="190.10" y="863.40" width="18.40" height="17.90" fill="#ff0000"/>
<rect x="190.10" y="881.30" width="18.40" height="17.90" fill="#ff0000"/>
<rect x="190.10" y="899.20" width="18.40" height="17.90" fill="#ff0000"/>
<line x1="190.10" y1="881.30" x2="208.50" y2="881.30" stroke="#000" stroke-width="1.6"/>
<line x1="190.10" y1="899.20" x2="208.50" y2="899.20" stroke="#000" stroke-width="1.6"/>
<rect x="190.90" y="864.20" width="16.80" height="52.10" fill="none" stroke="#000" stroke-width="1.6"/>
<rect x="214.20" y="863.40" width="18.40" height="17.90" fill="#ffffff"/>
<rect x="214.20" y="881.30" width="18.40" height="17.90" fill="#ffffff"/>
<rect x="214.20" y="899.20" width="18.40" height="17.90" fill="#ff0000"/>
<line x1="214.20" y1="881.30" x2="232.60" y2="881.30" stroke="#000" stroke-width="1.6"/>
<line x1="214.20" y1="899.20" x2="232.60" y2="899.20" stroke="#000" stroke-width="1.6"/>
<rect x="215.00" y="864.20" width="16.80" height="52.10" fill="none" stroke="#000" stroke-width="1.6"/>
<rect x="238.20" y="863.40" width="18.40" height="17.90" fill="#ff0000"/>
<rect x="238.20" y="881.30" width="18.40" height="17.90" fill="#ffffff"/>
<rect x="238.20" y="899.20" width="18.40" height="17.90" fill="#ff0000"/>
<line x1="238.20" y1="881.30" x2="256.60" y2="881.30" stroke="#000" stroke-width="1.6"/>
<line x1="238.20" y1="899.20" x2="256.60" y2="899.20" stroke="#000" stroke-width="1.6"/>
<rect x="239.00" y="864.20" width="16.80" height="52.10" fill="none" stroke="#000" stroke-width="1.6"/>
<text x="93.6" y="878.25" font-size="13.8" text-anchor="end"><tspan font-style="italic">PTK2</tspan> (2, 3)</text>
<text x="93.6" y="896.15" font-size="13.8" text-anchor="end"><tspan font-style="italic">PTK2B</tspan> (1, 2)</text>
<text x="93.6" y="914.05" font-size="13.8" text-anchor="end"><tspan font-style="italic">PTK2</tspan> + <tspan font-style="italic">PTK2B</tspan></text>
<text x="141.50" y="241.20" font-size="13.8" text-anchor="middle" fill="#000" >siNT</text>
<text x="223.5" y="241.2" font-size="13.8" text-anchor="middle">si<tspan font-style="italic">TP53</tspan></text>
<line x1="105" y1="250.4" x2="178.6" y2="250.4" stroke="#222" stroke-width="1.2"/>
<line x1="187.6" y1="250.4" x2="261.2" y2="250.4" stroke="#222" stroke-width="1.2"/>
<text x="116.70" y="264.60" font-size="13.8" text-anchor="middle" font-weight="bold" fill="#000" >1</text>
<text x="142.50" y="264.60" font-size="13.8" text-anchor="middle" font-weight="bold" fill="#000" >2</text>
<text x="168.40" y="264.60" font-size="13.8" text-anchor="middle" font-weight="bold" fill="#000" >3</text>
<text x="199.30" y="264.60" font-size="13.8" text-anchor="middle" font-weight="bold" fill="#000" >1</text>
<text x="223.40" y="264.60" font-size="13.8" text-anchor="middle" font-weight="bold" fill="#000" >2</text>
<text x="247.40" y="264.60" font-size="13.8" text-anchor="middle" font-weight="bold" fill="#000" >3</text>
<text x="93.60" y="264.70" font-size="13.8" text-anchor="end" font-weight="bold" fill="#000" >siRNA</text>
<rect x="105.80" y="930.30" width="20.20" height="17.50" fill="#ff0000" stroke="#000" stroke-width="1.6"/>
<rect x="105.80" y="953.30" width="20.20" height="22.10" fill="#ffff00" stroke="#000" stroke-width="1.6"/>
<rect x="105.80" y="976.20" width="20.20" height="19.40" fill="#ffffff" stroke="#000" stroke-width="1.6"/>
<text x="185.50" y="945.20" font-size="13.8" text-anchor="middle" fill="#000" >SI ≥ 0.25</text>
<text x="185.50" y="968.00" font-size="13.8" text-anchor="middle" fill="#000" >0.10 &lt; SI &lt; 0.25</text>
<text x="185.50" y="990.80" font-size="13.8" text-anchor="middle" fill="#000" >SI ≤ 0.10</text>
<rect x="499.00" y="30.70" width="18.50" height="18.20" fill="#ff0000"/>
<rect x="499.00" y="48.90" width="18.50" height="18.20" fill="#ff0000"/>
<line x1="499.00" y1="48.90" x2="517.50" y2="48.90" stroke="#000" stroke-width="1.6"/>
<rect x="499.80" y="31.50" width="16.90" height="34.80" fill="none" stroke="#000" stroke-width="1.6"/>
<rect x="524.80" y="30.70" width="18.50" height="18.20" fill="#ff0000"/>
<rect x="524.80" y="48.90" width="18.50" height="18.20" fill="#ff0000"/>
<line x1="524.80" y1="48.90" x2="543.30" y2="48.90" stroke="#000" stroke-width="1.6"/>
<rect x="525.60" y="31.50" width="16.90" height="34.80" fill="none" stroke="#000" stroke-width="1.6"/>
<rect x="550.70" y="30.70" width="18.50" height="18.20" fill="#ff0000"/>
<rect x="550.70" y="48.90" width="18.50" height="18.20" fill="#ff0000"/>
<line x1="550.70" y1="48.90" x2="569.20" y2="48.90" stroke="#000" stroke-width="1.6"/>
<rect x="551.50" y="31.50" width="16.90" height="34.80" fill="none" stroke="#000" stroke-width="1.6"/>
<rect x="581.30" y="30.70" width="18.50" height="18.20" fill="#ff0000"/>
<rect x="581.30" y="48.90" width="18.50" height="18.20" fill="#ffff00"/>
<line x1="581.30" y1="48.90" x2="599.80" y2="48.90" stroke="#000" stroke-width="1.6"/>
<rect x="582.10" y="31.50" width="16.90" height="34.80" fill="none" stroke="#000" stroke-width="1.6"/>
<rect x="605.40" y="30.70" width="18.50" height="18.20" fill="#ff0000"/>
<rect x="605.40" y="48.90" width="18.50" height="18.20" fill="#ff0000"/>
<line x1="605.40" y1="48.90" x2="623.90" y2="48.90" stroke="#000" stroke-width="1.6"/>
<rect x="606.20" y="31.50" width="16.90" height="34.80" fill="none" stroke="#000" stroke-width="1.6"/>
<rect x="629.30" y="30.70" width="18.50" height="18.20" fill="#ff0000"/>
<rect x="629.30" y="48.90" width="18.50" height="18.20" fill="#ff0000"/>
<line x1="629.30" y1="48.90" x2="647.80" y2="48.90" stroke="#000" stroke-width="1.6"/>
<rect x="630.10" y="31.50" width="16.90" height="34.80" fill="none" stroke="#000" stroke-width="1.6"/>
<rect x="499.00" y="73.60" width="18.50" height="18.40" fill="#ffff00"/>
<rect x="499.00" y="92.00" width="18.50" height="18.40" fill="#ffff00"/>
<line x1="499.00" y1="92.00" x2="517.50" y2="92.00" stroke="#000" stroke-width="1.6"/>
<rect x="499.80" y="74.40" width="16.90" height="35.20" fill="none" stroke="#000" stroke-width="1.6"/>
<rect x="524.80" y="73.60" width="18.50" height="18.40" fill="#ffff00"/>
<rect x="524.80" y="92.00" width="18.50" height="18.40" fill="#ffffff"/>
<line x1="524.80" y1="92.00" x2="543.30" y2="92.00" stroke="#000" stroke-width="1.6"/>
<rect x="525.60" y="74.40" width="16.90" height="35.20" fill="none" stroke="#000" stroke-width="1.6"/>
<rect x="550.70" y="73.60" width="18.50" height="18.40" fill="#ffff00"/>
<rect x="550.70" y="92.00" width="18.50" height="18.40" fill="#ffff00"/>
<line x1="550.70" y1="92.00" x2="569.20" y2="92.00" stroke="#000" stroke-width="1.6"/>
<rect x="551.50" y="74.40" width="16.90" height="35.20" fill="none" stroke="#000" stroke-width="1.6"/>
<rect x="581.30" y="73.60" width="18.50" height="18.40" fill="#ffff00"/>
<rect x="581.30" y="92.00" width="18.50" height="18.40" fill="#ffff00"/>
<line x1="581.30" y1="92.00" x2="599.80" y2="92.00" stroke="#000" stroke-width="1.6"/>
<rect x="582.10" y="74.40" width="16.90" height="35.20" fill="none" stroke="#000" stroke-width="1.6"/>
<rect x="605.40" y="73.60" width="18.50" height="18.40" fill="#ff0000"/>
<rect x="605.40" y="92.00" width="18.50" height="18.40" fill="#ffff00"/>
<line x1="605.40" y1="92.00" x2="623.90" y2="92.00" stroke="#000" stroke-width="1.6"/>
<rect x="606.20" y="74.40" width="16.90" height="35.20" fill="none" stroke="#000" stroke-width="1.6"/>
<rect x="629.30" y="73.60" width="18.50" height="18.40" fill="#ffff00"/>
<rect x="629.30" y="92.00" width="18.50" height="18.40" fill="#ffffff"/>
<line x1="629.30" y1="92.00" x2="647.80" y2="92.00" stroke="#000" stroke-width="1.6"/>
<rect x="630.10" y="74.40" width="16.90" height="35.20" fill="none" stroke="#000" stroke-width="1.6"/>
<text x="534.00" y="11.00" font-size="13.8" text-anchor="middle" fill="#000" >siNT</text>
<text x="614" y="11.0" font-size="13.8" text-anchor="middle">si<tspan font-style="italic">TP53</tspan></text>
<text x="508.25" y="27.50" font-size="13.8" text-anchor="middle" font-weight="bold" fill="#000" >1</text>
<text x="534.05" y="27.50" font-size="13.8" text-anchor="middle" font-weight="bold" fill="#000" >2</text>
<text x="559.95" y="27.50" font-size="13.8" text-anchor="middle" font-weight="bold" fill="#000" >3</text>
<text x="590.55" y="27.50" font-size="13.8" text-anchor="middle" font-weight="bold" fill="#000" >1</text>
<text x="614.65" y="27.50" font-size="13.8" text-anchor="middle" font-weight="bold" fill="#000" >2</text>
<text x="638.55" y="27.50" font-size="13.8" text-anchor="middle" font-weight="bold" fill="#000" >3</text>
<text x="485.00" y="27.50" font-size="13.8" text-anchor="end" font-weight="bold" fill="#000" >Compounds</text>
<text x="485.00" y="46.80" font-size="13.8" text-anchor="end" fill="#000" >450 nM Crizotinib</text>
<text x="485.00" y="64.40" font-size="13.8" text-anchor="end" fill="#000" >225 nM Foretinib</text>
<text x="485.00" y="89.60" font-size="13.8" text-anchor="end" fill="#000" >900 nM PND-1186</text>
<text x="485.00" y="107.00" font-size="13.8" text-anchor="end" fill="#000" >900 nM Defactinib</text>
<rect x="497.80" y="123.70" width="19.20" height="17.30" fill="#ff0000" stroke="#000" stroke-width="1.6"/>
<rect x="497.80" y="146.60" width="19.20" height="16.70" fill="#ffff00" stroke="#000" stroke-width="1.6"/>
<rect x="497.80" y="169.10" width="19.20" height="17.30" fill="#ffffff" stroke="#000" stroke-width="1.6"/>
<text x="577.00" y="138.50" font-size="13.8" text-anchor="middle" fill="#000" >SI ≥ 0.25</text>
<text x="577.00" y="161.30" font-size="13.8" text-anchor="middle" fill="#000" >0.10 &lt; SI &lt; 0.25</text>
<text x="577.00" y="183.60" font-size="13.8" text-anchor="middle" fill="#000" >SI &lt; 0.10</text>
<clipPath id="c1"><rect x="353.9" y="247.91999999999996" width="124.4" height="146.48000000000002"/></clipPath>
<clipPath id="c1b"><rect x="343.9" y="247.91999999999996" width="143.5" height="146.48000000000002"/></clipPath>
<g clip-path="url(#c1)">
<path d="M367.62,351.19V378.59M364.02,351.19H371.22M364.02,378.59H371.22" stroke="#2a7ac8" stroke-width="1.4" fill="none"/>
<path d="M381.34,315.77V339.80M377.74,315.77H384.94M377.74,339.80H384.94" stroke="#2a7ac8" stroke-width="1.4" fill="none"/>
<path d="M395.07,338.96V346.55M391.47,338.96H398.67M391.47,346.55H398.67" stroke="#2a7ac8" stroke-width="1.4" fill="none"/>
<path d="M408.79,315.56V329.05M405.19,315.56H412.39M405.19,329.05H412.39" stroke="#2a7ac8" stroke-width="1.4" fill="none"/>
<path d="M422.51,324.63V334.74M418.91,324.63H426.11M418.91,334.74H426.11" stroke="#2a7ac8" stroke-width="1.4" fill="none"/>
<path d="M436.23,322.10V332.64M432.63,322.10H439.83M432.63,332.64H439.83" stroke="#2a7ac8" stroke-width="1.4" fill="none"/>
<path d="M449.96,334.74V353.72M446.36,334.74H453.56M446.36,353.72H453.56" stroke="#2a7ac8" stroke-width="1.4" fill="none"/>
<path d="M463.68,318.30V333.90M460.08,318.30H467.28M460.08,333.90H467.28" stroke="#2a7ac8" stroke-width="1.4" fill="none"/>
<path d="M477.40,332.85V337.06M473.80,332.85H481.00M473.80,337.06H481.00" stroke="#2a7ac8" stroke-width="1.4" fill="none"/>
</g>
<g clip-path="url(#c1b)">
<polyline points="367.62,364.89 381.34,327.79 395.07,342.75 408.79,322.31 422.51,329.68 436.23,327.37 449.96,344.23 463.68,326.10 477.40,334.95" fill="none" stroke="#1f6fb5" stroke-width="1.9" stroke-linejoin="round"/>
<circle cx="367.62" cy="364.89" r="2.75" fill="#1a6fc0"/>
<circle cx="381.34" cy="327.79" r="2.75" fill="#1a6fc0"/>
<circle cx="395.07" cy="342.75" r="2.75" fill="#1a6fc0"/>
<circle cx="408.79" cy="322.31" r="2.75" fill="#1a6fc0"/>
<circle cx="422.51" cy="329.68" r="2.75" fill="#1a6fc0"/>
<circle cx="436.23" cy="327.37" r="2.75" fill="#1a6fc0"/>
<circle cx="449.96" cy="344.23" r="2.75" fill="#1a6fc0"/>
<circle cx="463.68" cy="326.10" r="2.75" fill="#1a6fc0"/>
<circle cx="477.40" cy="334.95" r="2.75" fill="#1a6fc0"/>
</g>
<g clip-path="url(#c1)">
<path d="M367.62,371.00V379.43M364.02,371.00H371.22M364.02,379.43H371.22" stroke="#30c030" stroke-width="1.4" fill="none"/>
<path d="M381.34,366.05V379.96M377.74,366.05H384.94M377.74,379.96H384.94" stroke="#30c030" stroke-width="1.4" fill="none"/>
<path d="M395.07,355.61V384.28M391.47,355.61H398.67M391.47,384.28H398.67" stroke="#30c030" stroke-width="1.4" fill="none"/>
<path d="M408.79,378.38V385.97M405.19,378.38H412.39M405.19,385.97H412.39" stroke="#30c030" stroke-width="1.4" fill="none"/>
<path d="M422.51,365.94V381.54M418.91,365.94H426.11M418.91,381.54H426.11" stroke="#30c030" stroke-width="1.4" fill="none"/>
<path d="M436.23,377.96V380.49M432.63,377.96H439.83M432.63,380.49H439.83" stroke="#30c030" stroke-width="1.4" fill="none"/>
<path d="M449.96,377.11V379.64M446.36,377.11H453.56M446.36,379.64H453.56" stroke="#30c030" stroke-width="1.4" fill="none"/>
<path d="M463.68,368.47V370.58M460.08,368.47H467.28M460.08,370.58H467.28" stroke="#30c030" stroke-width="1.4" fill="none"/>
<path d="M477.40,369.74V385.34M473.80,369.74H481.00M473.80,385.34H481.00" stroke="#30c030" stroke-width="1.4" fill="none"/>
</g>
<g clip-path="url(#c1b)">
<polyline points="367.62,375.22 381.34,373.00 395.07,369.95 408.79,382.17 422.51,373.74 436.23,379.22 449.96,378.38 463.68,369.53 477.40,377.54" fill="none" stroke="#1e9e5a" stroke-width="1.9" stroke-linejoin="round"/>
<circle cx="367.62" cy="375.22" r="2.75" fill="#20c020"/>
<circle cx="381.34" cy="373.00" r="2.75" fill="#20c020"/>
<circle cx="395.07" cy="369.95" r="2.75" fill="#20c020"/>
<circle cx="408.79" cy="382.17" r="2.75" fill="#20c020"/>
<circle cx="422.51" cy="373.74" r="2.75" fill="#20c020"/>
<circle cx="436.23" cy="379.22" r="2.75" fill="#20c020"/>
<circle cx="449.96" cy="378.38" r="2.75" fill="#20c020"/>
<circle cx="463.68" cy="369.53" r="2.75" fill="#20c020"/>
<circle cx="477.40" cy="377.54" r="2.75" fill="#20c020"/>
</g>
<g clip-path="url(#c1)">
<path d="M367.62,352.87V370.58M364.02,352.87H371.22M364.02,370.58H371.22" stroke="#e03030" stroke-width="1.4" fill="none"/>
<path d="M381.34,343.39V355.19M377.74,343.39H384.94M377.74,355.19H384.94" stroke="#e03030" stroke-width="1.4" fill="none"/>
<path d="M395.07,323.15V330.74M391.47,323.15H398.67M391.47,330.74H398.67" stroke="#e03030" stroke-width="1.4" fill="none"/>
<path d="M408.79,328.84V349.92M405.19,328.84H412.39M405.19,349.92H412.39" stroke="#e03030" stroke-width="1.4" fill="none"/>
<path d="M422.51,309.24V339.59M418.91,309.24H426.11M418.91,339.59H426.11" stroke="#e03030" stroke-width="1.4" fill="none"/>
<path d="M436.23,304.39V320.41M432.63,304.39H439.83M432.63,320.41H439.83" stroke="#e03030" stroke-width="1.4" fill="none"/>
<path d="M449.96,328.00V335.59M446.36,328.00H453.56M446.36,335.59H453.56" stroke="#e03030" stroke-width="1.4" fill="none"/>
<path d="M463.68,334.11V343.81M460.08,334.11H467.28M460.08,343.81H467.28" stroke="#e03030" stroke-width="1.4" fill="none"/>
<path d="M477.40,316.40V350.55M473.80,316.40H481.00M473.80,350.55H481.00" stroke="#e03030" stroke-width="1.4" fill="none"/>
</g>
<g clip-path="url(#c1b)">
<polyline points="367.62,361.73 381.34,349.29 395.07,326.94 408.79,339.38 422.51,324.41 436.23,312.40 449.96,331.79 463.68,338.96 477.40,333.48" fill="none" stroke="#e02828" stroke-width="1.9" stroke-linejoin="round"/>
<circle cx="367.62" cy="361.73" r="2.75" fill="#ee1111"/>
<circle cx="381.34" cy="349.29" r="2.75" fill="#ee1111"/>
<circle cx="395.07" cy="326.94" r="2.75" fill="#ee1111"/>
<circle cx="408.79" cy="339.38" r="2.75" fill="#ee1111"/>
<circle cx="422.51" cy="324.41" r="2.75" fill="#ee1111"/>
<circle cx="436.23" cy="312.40" r="2.75" fill="#ee1111"/>
<circle cx="449.96" cy="331.79" r="2.75" fill="#ee1111"/>
<circle cx="463.68" cy="338.96" r="2.75" fill="#ee1111"/>
<circle cx="477.40" cy="333.48" r="2.75" fill="#ee1111"/>
</g>
<path d="M353.9,257.7V394.4H477.4" fill="none" stroke="#222" stroke-width="1.4"/>
<line x1="349.4" y1="394.40" x2="353.9" y2="394.40" stroke="#222" stroke-width="1.3"/>
<text x="341.60" y="399.20" font-size="13.8" text-anchor="end" fill="#000" >0</text>
<line x1="349.4" y1="373.32" x2="353.9" y2="373.32" stroke="#222" stroke-width="1.3"/>
<text x="341.60" y="378.12" font-size="13.8" text-anchor="end" fill="#000" >0.1</text>
<line x1="349.4" y1="352.24" x2="353.9" y2="352.24" stroke="#222" stroke-width="1.3"/>
<text x="341.60" y="357.04" font-size="13.8" text-anchor="end" fill="#000" >0.2</text>
<line x1="349.4" y1="331.16" x2="353.9" y2="331.16" stroke="#222" stroke-width="1.3"/>
<text x="341.60" y="335.96" font-size="13.8" text-anchor="end" fill="#000" >0.3</text>
<line x1="349.4" y1="310.08" x2="353.9" y2="310.08" stroke="#222" stroke-width="1.3"/>
<text x="341.60" y="314.88" font-size="13.8" text-anchor="end" fill="#000" >0.4</text>
<line x1="349.4" y1="289.00" x2="353.9" y2="289.00" stroke="#222" stroke-width="1.3"/>
<text x="341.60" y="293.80" font-size="13.8" text-anchor="end" fill="#000" >0.5</text>
<line x1="349.4" y1="267.92" x2="353.9" y2="267.92" stroke="#222" stroke-width="1.3"/>
<text x="341.60" y="272.72" font-size="13.8" text-anchor="end" fill="#000" >0.6</text>
<line x1="353.90" y1="394.4" x2="353.90" y2="397.9" stroke="#222" stroke-width="1.3"/>
<text x="353.90" y="415.20" font-size="13.8" text-anchor="middle" fill="#000" >0</text>
<line x1="395.07" y1="394.4" x2="395.07" y2="397.9" stroke="#222" stroke-width="1.3"/>
<text x="395.07" y="415.20" font-size="13.8" text-anchor="middle" fill="#000" >150</text>
<line x1="436.23" y1="394.4" x2="436.23" y2="397.9" stroke="#222" stroke-width="1.3"/>
<text x="436.23" y="415.20" font-size="13.8" text-anchor="middle" fill="#000" >300</text>
<line x1="477.40" y1="394.4" x2="477.40" y2="397.9" stroke="#222" stroke-width="1.3"/>
<text x="477.40" y="415.20" font-size="13.8" text-anchor="middle" fill="#000" >450</text>
<text x="418.00" y="439.20" font-size="13.8" text-anchor="middle" fill="#000" >[drug] (nM)</text>
<text x="421.00" y="241.00" font-size="13.8" text-anchor="middle" fill="#000" >HCT116 + siNT</text>
<text x="0" y="0" font-size="13.8" text-anchor="middle" transform="translate(300.6,320.6) rotate(-90)">Fraction increase</text>
<text x="0" y="0" font-size="13.8" text-anchor="middle" transform="translate(316.4,321.5) rotate(-90)">pRB1<tspan font-size="10" dy="-3.3">S780</tspan><tspan dy="3.3"> negative</tspan></text>
<text x="488.30" y="335.90" font-size="13.8" text-anchor="start" fill="#000" >]</text>
<text x="493.60" y="335.70" font-size="13.8" text-anchor="start" fill="#000" >ns</text>
<text x="485.60" y="350.70" font-size="13.8" text-anchor="start" fill="#000" >****</text>
<text x="482.60" y="380.50" font-size="13.8" text-anchor="start" fill="#000" >ns</text>
<clipPath id="c2"><rect x="604.7" y="251.32" width="116.4" height="143.48000000000002"/></clipPath>
<clipPath id="c2b"><rect x="594.7" y="251.32" width="135.5" height="143.48000000000002"/></clipPath>
<g clip-path="url(#c2)">
<path d="M617.53,350.96V375.66M613.93,350.96H621.13M613.93,375.66H621.13" stroke="#2a7ac8" stroke-width="1.4" fill="none"/>
<path d="M630.37,347.67V355.90M626.77,347.67H633.97M626.77,355.90H633.97" stroke="#2a7ac8" stroke-width="1.4" fill="none"/>
<path d="M643.20,360.84V371.13M639.60,360.84H646.80M639.60,371.13H646.80" stroke="#2a7ac8" stroke-width="1.4" fill="none"/>
<path d="M656.03,345.82V366.40M652.43,345.82H659.63M652.43,366.40H659.63" stroke="#2a7ac8" stroke-width="1.4" fill="none"/>
<path d="M668.87,337.59V361.46M665.27,337.59H672.47M665.27,361.46H672.47" stroke="#2a7ac8" stroke-width="1.4" fill="none"/>
<path d="M681.70,346.44V361.67M678.10,346.44H685.30M678.10,361.67H685.30" stroke="#2a7ac8" stroke-width="1.4" fill="none"/>
<path d="M694.53,338.62V346.85M690.93,338.62H698.13M690.93,346.85H698.13" stroke="#2a7ac8" stroke-width="1.4" fill="none"/>
<path d="M707.37,333.27V341.50M703.77,333.27H710.97M703.77,341.50H710.97" stroke="#2a7ac8" stroke-width="1.4" fill="none"/>
<path d="M720.20,319.27V348.50M716.60,319.27H723.80M716.60,348.50H723.80" stroke="#2a7ac8" stroke-width="1.4" fill="none"/>
</g>
<g clip-path="url(#c2b)">
<polyline points="617.53,363.31 630.37,351.79 643.20,365.99 656.03,356.11 668.87,349.52 681.70,354.05 694.53,342.73 707.37,337.38 720.20,333.88" fill="none" stroke="#1f6fb5" stroke-width="1.9" stroke-linejoin="round"/>
<circle cx="617.53" cy="363.31" r="2.75" fill="#1a6fc0"/>
<circle cx="630.37" cy="351.79" r="2.75" fill="#1a6fc0"/>
<circle cx="643.20" cy="365.99" r="2.75" fill="#1a6fc0"/>
<circle cx="656.03" cy="356.11" r="2.75" fill="#1a6fc0"/>
<circle cx="668.87" cy="349.52" r="2.75" fill="#1a6fc0"/>
<circle cx="681.70" cy="354.05" r="2.75" fill="#1a6fc0"/>
<circle cx="694.53" cy="342.73" r="2.75" fill="#1a6fc0"/>
<circle cx="707.37" cy="337.38" r="2.75" fill="#1a6fc0"/>
<circle cx="720.20" cy="333.88" r="2.75" fill="#1a6fc0"/>
</g>
<g clip-path="url(#c2)">
<path d="M617.53,375.87V382.04M613.93,375.87H621.13M613.93,382.04H621.13" stroke="#30c030" stroke-width="1.4" fill="none"/>
<path d="M643.20,371.75V379.16M639.60,371.75H646.80M639.60,379.16H646.80" stroke="#30c030" stroke-width="1.4" fill="none"/>
<path d="M656.03,368.46V370.52M652.43,368.46H659.63M652.43,370.52H659.63" stroke="#30c030" stroke-width="1.4" fill="none"/>
<path d="M668.87,367.84V382.66M665.27,367.84H672.47M665.27,382.66H672.47" stroke="#30c030" stroke-width="1.4" fill="none"/>
<path d="M681.70,363.31V385.95M678.10,363.31H685.30M678.10,385.95H685.30" stroke="#30c030" stroke-width="1.4" fill="none"/>
<path d="M694.53,375.87V377.51M690.93,375.87H698.13M690.93,377.51H698.13" stroke="#30c030" stroke-width="1.4" fill="none"/>
<path d="M707.37,373.40V377.51M703.77,373.40H710.97M703.77,377.51H710.97" stroke="#30c030" stroke-width="1.4" fill="none"/>
<path d="M720.20,365.99V370.10M716.60,365.99H723.80M716.60,370.10H723.80" stroke="#30c030" stroke-width="1.4" fill="none"/>
</g>
<g clip-path="url(#c2b)">
<polyline points="617.53,378.95 630.37,380.19 643.20,375.45 656.03,369.49 668.87,375.25 681.70,374.63 694.53,376.69 707.37,375.45 720.20,368.05" fill="none" stroke="#1e9e5a" stroke-width="1.9" stroke-linejoin="round"/>
<circle cx="617.53" cy="378.95" r="2.75" fill="#20c020"/>
<circle cx="630.37" cy="380.19" r="2.75" fill="#20c020"/>
<circle cx="643.20" cy="375.45" r="2.75" fill="#20c020"/>
<circle cx="656.03" cy="369.49" r="2.75" fill="#20c020"/>
<circle cx="668.87" cy="375.25" r="2.75" fill="#20c020"/>
<circle cx="681.70" cy="374.63" r="2.75" fill="#20c020"/>
<circle cx="694.53" cy="376.69" r="2.75" fill="#20c020"/>
<circle cx="707.37" cy="375.45" r="2.75" fill="#20c020"/>
<circle cx="720.20" cy="368.05" r="2.75" fill="#20c020"/>
</g>
<g clip-path="url(#c2)">
<path d="M617.53,380.19V386.36M613.93,380.19H621.13M613.93,386.36H621.13" stroke="#e03030" stroke-width="1.4" fill="none"/>
<path d="M630.37,356.11V360.23M626.77,356.11H633.97M626.77,360.23H633.97" stroke="#e03030" stroke-width="1.4" fill="none"/>
<path d="M643.20,342.32V370.72M639.60,342.32H646.80M639.60,370.72H646.80" stroke="#e03030" stroke-width="1.4" fill="none"/>
<path d="M656.03,343.76V353.64M652.43,343.76H659.63M652.43,353.64H659.63" stroke="#e03030" stroke-width="1.4" fill="none"/>
<path d="M668.87,349.11V361.46M665.27,349.11H672.47M665.27,361.46H672.47" stroke="#e03030" stroke-width="1.4" fill="none"/>
<path d="M681.70,334.91V369.49M678.10,334.91H685.30M678.10,369.49H685.30" stroke="#e03030" stroke-width="1.4" fill="none"/>
<path d="M694.53,343.97V348.08M690.93,343.97H698.13M690.93,348.08H698.13" stroke="#e03030" stroke-width="1.4" fill="none"/>
<path d="M707.37,314.95V343.76M703.77,314.95H710.97M703.77,343.76H710.97" stroke="#e03030" stroke-width="1.4" fill="none"/>
<path d="M720.20,325.24V346.23M716.60,325.24H723.80M716.60,346.23H723.80" stroke="#e03030" stroke-width="1.4" fill="none"/>
</g>
<g clip-path="url(#c2b)">
<polyline points="617.53,383.28 630.37,358.17 643.20,356.52 656.03,348.70 668.87,355.29 681.70,352.20 694.53,346.03 707.37,329.36 720.20,335.74" fill="none" stroke="#e02828" stroke-width="1.9" stroke-linejoin="round"/>
<circle cx="617.53" cy="383.28" r="2.75" fill="#ee1111"/>
<circle cx="630.37" cy="358.17" r="2.75" fill="#ee1111"/>
<circle cx="643.20" cy="356.52" r="2.75" fill="#ee1111"/>
<circle cx="656.03" cy="348.70" r="2.75" fill="#ee1111"/>
<circle cx="668.87" cy="355.29" r="2.75" fill="#ee1111"/>
<circle cx="681.70" cy="352.20" r="2.75" fill="#ee1111"/>
<circle cx="694.53" cy="346.03" r="2.75" fill="#ee1111"/>
<circle cx="707.37" cy="329.36" r="2.75" fill="#ee1111"/>
<circle cx="720.20" cy="335.74" r="2.75" fill="#ee1111"/>
</g>
<path d="M604.7,257.7V394.8H720.2" fill="none" stroke="#222" stroke-width="1.4"/>
<line x1="600.2" y1="394.80" x2="604.7" y2="394.80" stroke="#222" stroke-width="1.3"/>
<text x="592.80" y="399.60" font-size="13.8" text-anchor="end" fill="#000" >0</text>
<line x1="600.2" y1="374.22" x2="604.7" y2="374.22" stroke="#222" stroke-width="1.3"/>
<text x="592.80" y="379.02" font-size="13.8" text-anchor="end" fill="#000" >0.1</text>
<line x1="600.2" y1="353.64" x2="604.7" y2="353.64" stroke="#222" stroke-width="1.3"/>
<text x="592.80" y="358.44" font-size="13.8" text-anchor="end" fill="#000" >0.2</text>
<line x1="600.2" y1="333.06" x2="604.7" y2="333.06" stroke="#222" stroke-width="1.3"/>
<text x="592.80" y="337.86" font-size="13.8" text-anchor="end" fill="#000" >0.3</text>
<line x1="600.2" y1="312.48" x2="604.7" y2="312.48" stroke="#222" stroke-width="1.3"/>
<text x="592.80" y="317.28" font-size="13.8" text-anchor="end" fill="#000" >0.4</text>
<line x1="600.2" y1="291.90" x2="604.7" y2="291.90" stroke="#222" stroke-width="1.3"/>
<text x="592.80" y="296.70" font-size="13.8" text-anchor="end" fill="#000" >0.5</text>
<line x1="600.2" y1="271.32" x2="604.7" y2="271.32" stroke="#222" stroke-width="1.3"/>
<text x="592.80" y="276.12" font-size="13.8" text-anchor="end" fill="#000" >0.6</text>
<line x1="604.70" y1="394.8" x2="604.70" y2="398.3" stroke="#222" stroke-width="1.3"/>
<text x="604.70" y="415.40" font-size="13.8" text-anchor="middle" fill="#000" >0</text>
<line x1="643.20" y1="394.8" x2="643.20" y2="398.3" stroke="#222" stroke-width="1.3"/>
<text x="643.20" y="415.40" font-size="13.8" text-anchor="middle" fill="#000" >150</text>
<line x1="681.70" y1="394.8" x2="681.70" y2="398.3" stroke="#222" stroke-width="1.3"/>
<text x="681.70" y="415.40" font-size="13.8" text-anchor="middle" fill="#000" >300</text>
<line x1="720.20" y1="394.8" x2="720.20" y2="398.3" stroke="#222" stroke-width="1.3"/>
<text x="720.20" y="415.40" font-size="13.8" text-anchor="middle" fill="#000" >450</text>
<text x="668.00" y="435.80" font-size="13.8" text-anchor="middle" fill="#000" >[drug] (nM)</text>
<text x="666.1" y="238.5" font-size="13.8" text-anchor="middle">HCT116 + si<tspan font-style="italic">TP53</tspan></text>
<text x="0" y="0" font-size="13.8" text-anchor="middle" transform="translate(545.5,320.2) rotate(-90)">Fraction increase</text>
<text x="0" y="0" font-size="13.8" text-anchor="middle" transform="translate(561.9,321.5) rotate(-90)">pRB1<tspan font-size="10" dy="-3.3">S780</tspan><tspan dy="3.3"> negative</tspan></text>
<line x1="618.6" y1="255.5" x2="632.9" y2="255.5" stroke="#4a7ab8" stroke-width="2.8"/>
<text x="640.40" y="259.90" font-size="12.2" text-anchor="start" fill="#000" >Palbociclib</text>
<line x1="618.6" y1="272.8" x2="632.9" y2="272.8" stroke="#22bb55" stroke-width="2.8"/>
<text x="640.40" y="277.20" font-size="12.2" text-anchor="start" fill="#000" >Crizotinib</text>
<line x1="618.6" y1="290.1" x2="632.9" y2="290.1" stroke="#e03434" stroke-width="2.8"/>
<text x="640.40" y="294.50" font-size="12.2" text-anchor="start" fill="#000" >Combined</text>
<text x="725.80" y="339.20" font-size="13.8" text-anchor="start" fill="#000" >] ns</text>
<text x="725.10" y="352.60" font-size="13.8" text-anchor="start" fill="#000" >****</text>
<text x="726.00" y="371.60" font-size="13.8" text-anchor="start" fill="#000" >ns</text>
<clipPath id="c3"><rect x="351.3" y="500.6199999999999" width="131.79999999999998" height="156.68000000000006"/></clipPath>
<clipPath id="c3b"><rect x="341.3" y="500.6199999999999" width="150.89999999999998" height="156.68000000000006"/></clipPath>
<g clip-path="url(#c3)">
<path d="M365.84,645.68V649.33M362.24,645.68H369.44M362.24,649.33H369.44" stroke="#2a7ac8" stroke-width="1.4" fill="none"/>
<path d="M380.39,620.17V646.59M376.79,620.17H383.99M376.79,646.59H383.99" stroke="#2a7ac8" stroke-width="1.4" fill="none"/>
<path d="M394.93,637.71V649.10M391.33,637.71H398.53M391.33,649.10H398.53" stroke="#2a7ac8" stroke-width="1.4" fill="none"/>
<path d="M409.48,633.15V637.71M405.88,633.15H413.08M405.88,637.71H413.08" stroke="#2a7ac8" stroke-width="1.4" fill="none"/>
<path d="M424.02,615.16V629.74M420.42,615.16H427.62M420.42,629.74H427.62" stroke="#2a7ac8" stroke-width="1.4" fill="none"/>
<path d="M438.57,618.35V627.46M434.97,618.35H442.17M434.97,627.46H442.17" stroke="#2a7ac8" stroke-width="1.4" fill="none"/>
<path d="M453.11,614.25V623.36M449.51,614.25H456.71M449.51,623.36H456.71" stroke="#2a7ac8" stroke-width="1.4" fill="none"/>
<path d="M467.66,606.50V618.80M464.06,606.50H471.26M464.06,618.80H471.26" stroke="#2a7ac8" stroke-width="1.4" fill="none"/>
<path d="M482.20,610.37V619.49M478.60,610.37H485.80M478.60,619.49H485.80" stroke="#2a7ac8" stroke-width="1.4" fill="none"/>
</g>
<g clip-path="url(#c3b)">
<polyline points="365.84,647.50 380.39,633.38 394.93,643.40 409.48,635.43 424.02,622.45 438.57,622.90 453.11,618.80 467.66,612.65 482.20,614.93" fill="none" stroke="#1f6fb5" stroke-width="1.9" stroke-linejoin="round"/>
<circle cx="365.84" cy="647.50" r="2.75" fill="#1a6fc0"/>
<circle cx="380.39" cy="633.38" r="2.75" fill="#1a6fc0"/>
<circle cx="394.93" cy="643.40" r="2.75" fill="#1a6fc0"/>
<circle cx="409.48" cy="635.43" r="2.75" fill="#1a6fc0"/>
<circle cx="424.02" cy="622.45" r="2.75" fill="#1a6fc0"/>
<circle cx="438.57" cy="622.90" r="2.75" fill="#1a6fc0"/>
<circle cx="453.11" cy="618.80" r="2.75" fill="#1a6fc0"/>
<circle cx="467.66" cy="612.65" r="2.75" fill="#1a6fc0"/>
<circle cx="482.20" cy="614.93" r="2.75" fill="#1a6fc0"/>
</g>
<g clip-path="url(#c3)">
<path d="M365.84,647.96V650.24M362.24,647.96H369.44M362.24,650.24H369.44" stroke="#30c030" stroke-width="1.4" fill="none"/>
<path d="M380.39,646.59V659.35M376.79,646.59H383.99M376.79,659.35H383.99" stroke="#30c030" stroke-width="1.4" fill="none"/>
<path d="M394.93,645.68V654.79M391.33,645.68H398.53M391.33,654.79H398.53" stroke="#30c030" stroke-width="1.4" fill="none"/>
<path d="M409.48,645.23V654.34M405.88,645.23H413.08M405.88,654.34H413.08" stroke="#30c030" stroke-width="1.4" fill="none"/>
<path d="M424.02,645.45V649.10M420.42,645.45H427.62M420.42,649.10H427.62" stroke="#30c030" stroke-width="1.4" fill="none"/>
<path d="M438.57,644.77V649.33M434.97,644.77H442.17M434.97,649.33H442.17" stroke="#30c030" stroke-width="1.4" fill="none"/>
<path d="M453.11,637.94V644.77M449.51,637.94H456.71M449.51,644.77H456.71" stroke="#30c030" stroke-width="1.4" fill="none"/>
<path d="M467.66,636.11V638.39M464.06,636.11H471.26M464.06,638.39H471.26" stroke="#30c030" stroke-width="1.4" fill="none"/>
<path d="M482.20,628.37V643.86M478.60,628.37H485.80M478.60,643.86H485.80" stroke="#30c030" stroke-width="1.4" fill="none"/>
</g>
<g clip-path="url(#c3b)">
<polyline points="365.84,649.10 380.39,652.97 394.93,650.24 409.48,649.78 424.02,647.28 438.57,647.05 453.11,641.35 467.66,637.25 482.20,636.11" fill="none" stroke="#1e9e5a" stroke-width="1.9" stroke-linejoin="round"/>
<circle cx="365.84" cy="649.10" r="2.75" fill="#20c020"/>
<circle cx="380.39" cy="652.97" r="2.75" fill="#20c020"/>
<circle cx="394.93" cy="650.24" r="2.75" fill="#20c020"/>
<circle cx="409.48" cy="649.78" r="2.75" fill="#20c020"/>
<circle cx="424.02" cy="647.28" r="2.75" fill="#20c020"/>
<circle cx="438.57" cy="647.05" r="2.75" fill="#20c020"/>
<circle cx="453.11" cy="641.35" r="2.75" fill="#20c020"/>
<circle cx="467.66" cy="637.25" r="2.75" fill="#20c020"/>
<circle cx="482.20" cy="636.11" r="2.75" fill="#20c020"/>
</g>
<g clip-path="url(#c3)">
<path d="M365.84,627.91V634.29M362.24,627.91H369.44M362.24,634.29H369.44" stroke="#e03030" stroke-width="1.4" fill="none"/>
<path d="M380.39,620.17V646.59M376.79,620.17H383.99M376.79,646.59H383.99" stroke="#e03030" stroke-width="1.4" fill="none"/>
<path d="M394.93,611.06V633.38M391.33,611.06H398.53M391.33,633.38H398.53" stroke="#e03030" stroke-width="1.4" fill="none"/>
<path d="M409.48,607.41V627.00M405.88,607.41H413.08M405.88,627.00H413.08" stroke="#e03030" stroke-width="1.4" fill="none"/>
<path d="M424.02,588.96V603.99M420.42,588.96H427.62M420.42,603.99H427.62" stroke="#e03030" stroke-width="1.4" fill="none"/>
<path d="M438.57,578.25V616.52M434.97,578.25H442.17M434.97,616.52H442.17" stroke="#e03030" stroke-width="1.4" fill="none"/>
<path d="M453.11,563.67V584.18M449.51,563.67H456.71M449.51,584.18H456.71" stroke="#e03030" stroke-width="1.4" fill="none"/>
<path d="M467.66,539.76V557.98M464.06,539.76H471.26M464.06,557.98H471.26" stroke="#e03030" stroke-width="1.4" fill="none"/>
<path d="M482.20,551.37V572.33M478.60,551.37H485.80M478.60,572.33H485.80" stroke="#e03030" stroke-width="1.4" fill="none"/>
</g>
<g clip-path="url(#c3b)">
<polyline points="365.84,631.10 380.39,633.38 394.93,622.22 409.48,617.21 424.02,596.48 438.57,597.39 453.11,573.93 467.66,548.87 482.20,561.85" fill="none" stroke="#e02828" stroke-width="1.9" stroke-linejoin="round"/>
<circle cx="365.84" cy="631.10" r="2.75" fill="#ee1111"/>
<circle cx="380.39" cy="633.38" r="2.75" fill="#ee1111"/>
<circle cx="394.93" cy="622.22" r="2.75" fill="#ee1111"/>
<circle cx="409.48" cy="617.21" r="2.75" fill="#ee1111"/>
<circle cx="424.02" cy="596.48" r="2.75" fill="#ee1111"/>
<circle cx="438.57" cy="597.39" r="2.75" fill="#ee1111"/>
<circle cx="453.11" cy="573.93" r="2.75" fill="#ee1111"/>
<circle cx="467.66" cy="548.87" r="2.75" fill="#ee1111"/>
<circle cx="482.20" cy="561.85" r="2.75" fill="#ee1111"/>
</g>
<path d="M351.3,520.6199999999999V657.3H482.2" fill="none" stroke="#222" stroke-width="1.4"/>
<line x1="346.8" y1="657.30" x2="351.3" y2="657.30" stroke="#222" stroke-width="1.3"/>
<text x="339.90" y="662.10" font-size="13.8" text-anchor="end" fill="#000" >0</text>
<line x1="346.8" y1="634.52" x2="351.3" y2="634.52" stroke="#222" stroke-width="1.3"/>
<text x="339.90" y="639.32" font-size="13.8" text-anchor="end" fill="#000" >0.1</text>
<line x1="346.8" y1="611.74" x2="351.3" y2="611.74" stroke="#222" stroke-width="1.3"/>
<text x="339.90" y="616.54" font-size="13.8" text-anchor="end" fill="#000" >0.2</text>
<line x1="346.8" y1="588.96" x2="351.3" y2="588.96" stroke="#222" stroke-width="1.3"/>
<text x="339.90" y="593.76" font-size="13.8" text-anchor="end" fill="#000" >0.3</text>
<line x1="346.8" y1="566.18" x2="351.3" y2="566.18" stroke="#222" stroke-width="1.3"/>
<text x="339.90" y="570.98" font-size="13.8" text-anchor="end" fill="#000" >0.4</text>
<line x1="346.8" y1="543.40" x2="351.3" y2="543.40" stroke="#222" stroke-width="1.3"/>
<text x="339.90" y="548.20" font-size="13.8" text-anchor="end" fill="#000" >0.5</text>
<line x1="346.8" y1="520.62" x2="351.3" y2="520.62" stroke="#222" stroke-width="1.3"/>
<text x="339.90" y="525.42" font-size="13.8" text-anchor="end" fill="#000" >0.6</text>
<line x1="351.30" y1="657.3" x2="351.30" y2="660.8" stroke="#222" stroke-width="1.3"/>
<text x="351.30" y="678.20" font-size="13.8" text-anchor="middle" fill="#000" >0</text>
<line x1="394.93" y1="657.3" x2="394.93" y2="660.8" stroke="#222" stroke-width="1.3"/>
<text x="394.93" y="678.20" font-size="13.8" text-anchor="middle" fill="#000" >150</text>
<line x1="438.57" y1="657.3" x2="438.57" y2="660.8" stroke="#222" stroke-width="1.3"/>
<text x="438.57" y="678.20" font-size="13.8" text-anchor="middle" fill="#000" >300</text>
<line x1="482.20" y1="657.3" x2="482.20" y2="660.8" stroke="#222" stroke-width="1.3"/>
<text x="482.20" y="678.20" font-size="13.8" text-anchor="middle" fill="#000" >450</text>
<text x="424.00" y="701.00" font-size="13.8" text-anchor="middle" fill="#000" >[drug] (nM)</text>
<text x="420.50" y="496.60" font-size="13.8" text-anchor="middle" fill="#000" >HCT116 + siNT</text>
<text x="0" y="0" font-size="13.8" text-anchor="middle" transform="translate(301.6,586.9) rotate(-90)">Fraction increase</text>
<text x="0" y="0" font-size="13.8" text-anchor="middle" transform="translate(315.6,586.0) rotate(-90)">low CDK2 activity</text>
<path d="M488.1,563.1H491.1V613.4H488.1" fill="none" stroke="#333" stroke-width="1.2"/>
<path d="M502.4,563.9H505.2V634H502.4" fill="none" stroke="#333" stroke-width="1.2"/>
<text x="0" y="0" font-size="13.8" text-anchor="middle" transform="translate(489.8,591.3) rotate(90)">****</text>
<text x="0" y="0" font-size="13.8" text-anchor="middle" transform="translate(504.9,595.5) rotate(90)">****</text>
<clipPath id="c4"><rect x="591.8" y="500.5999999999999" width="131.9" height="157.20000000000005"/></clipPath>
<clipPath id="c4b"><rect x="581.8" y="500.5999999999999" width="151.0" height="157.20000000000005"/></clipPath>
<g clip-path="url(#c4)">
<path d="M606.36,643.05V668.43M602.76,643.05H609.96M602.76,668.43H609.96" stroke="#2a7ac8" stroke-width="1.4" fill="none"/>
<path d="M620.91,646.48V653.34M617.31,646.48H624.51M617.31,653.34H624.51" stroke="#2a7ac8" stroke-width="1.4" fill="none"/>
<path d="M635.47,649.91V655.40M631.87,649.91H639.07M631.87,655.40H639.07" stroke="#2a7ac8" stroke-width="1.4" fill="none"/>
<path d="M650.02,637.91V646.82M646.42,637.91H653.62M646.42,646.82H653.62" stroke="#2a7ac8" stroke-width="1.4" fill="none"/>
<path d="M664.58,649.22V652.65M660.98,649.22H668.18M660.98,652.65H668.18" stroke="#2a7ac8" stroke-width="1.4" fill="none"/>
<path d="M679.13,646.14V651.63M675.53,646.14H682.73M675.53,651.63H682.73" stroke="#2a7ac8" stroke-width="1.4" fill="none"/>
<path d="M693.69,644.77V648.88M690.09,644.77H697.29M690.09,648.88H697.29" stroke="#2a7ac8" stroke-width="1.4" fill="none"/>
<path d="M708.24,643.74V650.60M704.64,643.74H711.84M704.64,650.60H711.84" stroke="#2a7ac8" stroke-width="1.4" fill="none"/>
<path d="M722.80,618.01V639.96M719.20,618.01H726.40M719.20,639.96H726.40" stroke="#2a7ac8" stroke-width="1.4" fill="none"/>
</g>
<g clip-path="url(#c4b)">
<polyline points="606.36,655.74 620.91,649.91 635.47,652.65 650.02,642.37 664.58,650.94 679.13,648.88 693.69,646.82 708.24,647.17 722.80,628.99" fill="none" stroke="#1f6fb5" stroke-width="1.9" stroke-linejoin="round"/>
<circle cx="606.36" cy="655.74" r="2.75" fill="#1a6fc0"/>
<circle cx="620.91" cy="649.91" r="2.75" fill="#1a6fc0"/>
<circle cx="635.47" cy="652.65" r="2.75" fill="#1a6fc0"/>
<circle cx="650.02" cy="642.37" r="2.75" fill="#1a6fc0"/>
<circle cx="664.58" cy="650.94" r="2.75" fill="#1a6fc0"/>
<circle cx="679.13" cy="648.88" r="2.75" fill="#1a6fc0"/>
<circle cx="693.69" cy="646.82" r="2.75" fill="#1a6fc0"/>
<circle cx="708.24" cy="647.17" r="2.75" fill="#1a6fc0"/>
<circle cx="722.80" cy="628.99" r="2.75" fill="#1a6fc0"/>
</g>
<g clip-path="url(#c4)">
<path d="M606.36,646.14V653.00M602.76,646.14H609.96M602.76,653.00H609.96" stroke="#30c030" stroke-width="1.4" fill="none"/>
<path d="M620.91,655.74V657.80M617.31,655.74H624.51M617.31,657.80H624.51" stroke="#30c030" stroke-width="1.4" fill="none"/>
<path d="M650.02,653.34V657.46M646.42,653.34H653.62M646.42,657.46H653.62" stroke="#30c030" stroke-width="1.4" fill="none"/>
<path d="M664.58,650.25V653.68M660.98,650.25H668.18M660.98,653.68H668.18" stroke="#30c030" stroke-width="1.4" fill="none"/>
<path d="M679.13,649.57V655.06M675.53,649.57H682.73M675.53,655.06H682.73" stroke="#30c030" stroke-width="1.4" fill="none"/>
<path d="M693.69,638.93V665.69M690.09,638.93H697.29M690.09,665.69H697.29" stroke="#30c030" stroke-width="1.4" fill="none"/>
<path d="M708.24,639.62V656.08M704.64,639.62H711.84M704.64,656.08H711.84" stroke="#30c030" stroke-width="1.4" fill="none"/>
<path d="M722.80,630.70V638.93M719.20,630.70H726.40M719.20,638.93H726.40" stroke="#30c030" stroke-width="1.4" fill="none"/>
</g>
<g clip-path="url(#c4b)">
<polyline points="606.36,649.57 620.91,656.77 635.47,658.83 650.02,655.40 664.58,651.97 679.13,652.31 693.69,652.31 708.24,647.85 722.80,634.82" fill="none" stroke="#1e9e5a" stroke-width="1.9" stroke-linejoin="round"/>
<circle cx="606.36" cy="649.57" r="2.75" fill="#20c020"/>
<circle cx="620.91" cy="656.77" r="2.75" fill="#20c020"/>
<circle cx="635.47" cy="658.83" r="2.75" fill="#20c020"/>
<circle cx="650.02" cy="655.40" r="2.75" fill="#20c020"/>
<circle cx="664.58" cy="651.97" r="2.75" fill="#20c020"/>
<circle cx="679.13" cy="652.31" r="2.75" fill="#20c020"/>
<circle cx="693.69" cy="652.31" r="2.75" fill="#20c020"/>
<circle cx="708.24" cy="647.85" r="2.75" fill="#20c020"/>
<circle cx="722.80" cy="634.82" r="2.75" fill="#20c020"/>
</g>
<g clip-path="url(#c4)">
<path d="M606.36,637.91V654.37M602.76,637.91H609.96M602.76,654.37H609.96" stroke="#e03030" stroke-width="1.4" fill="none"/>
<path d="M620.91,633.79V647.51M617.31,633.79H624.51M617.31,647.51H624.51" stroke="#e03030" stroke-width="1.4" fill="none"/>
<path d="M635.47,638.93V645.11M631.87,638.93H639.07M631.87,645.11H639.07" stroke="#e03030" stroke-width="1.4" fill="none"/>
<path d="M650.02,640.99V646.48M646.42,640.99H653.62M646.42,646.48H653.62" stroke="#e03030" stroke-width="1.4" fill="none"/>
<path d="M664.58,625.56V632.42M660.98,625.56H668.18M660.98,632.42H668.18" stroke="#e03030" stroke-width="1.4" fill="none"/>
<path d="M679.13,622.13V635.85M675.53,622.13H682.73M675.53,635.85H682.73" stroke="#e03030" stroke-width="1.4" fill="none"/>
<path d="M693.69,614.24V637.56M690.09,614.24H697.29M690.09,637.56H697.29" stroke="#e03030" stroke-width="1.4" fill="none"/>
<path d="M708.24,591.26V607.04M704.64,591.26H711.84M704.64,607.04H711.84" stroke="#e03030" stroke-width="1.4" fill="none"/>
<path d="M722.80,559.36V590.23M719.20,559.36H726.40M719.20,590.23H726.40" stroke="#e03030" stroke-width="1.4" fill="none"/>
</g>
<g clip-path="url(#c4b)">
<polyline points="606.36,646.14 620.91,640.65 635.47,642.02 650.02,643.74 664.58,628.99 679.13,628.99 693.69,625.90 708.24,599.15 722.80,574.79" fill="none" stroke="#e02828" stroke-width="1.9" stroke-linejoin="round"/>
<circle cx="606.36" cy="646.14" r="2.75" fill="#ee1111"/>
<circle cx="620.91" cy="640.65" r="2.75" fill="#ee1111"/>
<circle cx="635.47" cy="642.02" r="2.75" fill="#ee1111"/>
<circle cx="650.02" cy="643.74" r="2.75" fill="#ee1111"/>
<circle cx="664.58" cy="628.99" r="2.75" fill="#ee1111"/>
<circle cx="679.13" cy="628.99" r="2.75" fill="#ee1111"/>
<circle cx="693.69" cy="625.90" r="2.75" fill="#ee1111"/>
<circle cx="708.24" cy="599.15" r="2.75" fill="#ee1111"/>
<circle cx="722.80" cy="574.79" r="2.75" fill="#ee1111"/>
</g>
<path d="M591.8,520.5999999999999V657.8H722.8" fill="none" stroke="#222" stroke-width="1.4"/>
<line x1="587.3" y1="657.80" x2="591.8" y2="657.80" stroke="#222" stroke-width="1.3"/>
<text x="580.20" y="662.60" font-size="13.8" text-anchor="end" fill="#000" >0</text>
<line x1="587.3" y1="623.50" x2="591.8" y2="623.50" stroke="#222" stroke-width="1.3"/>
<text x="580.20" y="628.30" font-size="13.8" text-anchor="end" fill="#000" >0.1</text>
<line x1="587.3" y1="589.20" x2="591.8" y2="589.20" stroke="#222" stroke-width="1.3"/>
<text x="580.20" y="594.00" font-size="13.8" text-anchor="end" fill="#000" >0.2</text>
<line x1="587.3" y1="554.90" x2="591.8" y2="554.90" stroke="#222" stroke-width="1.3"/>
<text x="580.20" y="559.70" font-size="13.8" text-anchor="end" fill="#000" >0.3</text>
<line x1="587.3" y1="520.60" x2="591.8" y2="520.60" stroke="#222" stroke-width="1.3"/>
<text x="580.20" y="525.40" font-size="13.8" text-anchor="end" fill="#000" >0.4</text>
<line x1="591.80" y1="657.8" x2="591.80" y2="661.3" stroke="#222" stroke-width="1.3"/>
<text x="591.80" y="678.40" font-size="13.8" text-anchor="middle" fill="#000" >0</text>
<line x1="635.47" y1="657.8" x2="635.47" y2="661.3" stroke="#222" stroke-width="1.3"/>
<text x="635.47" y="678.40" font-size="13.8" text-anchor="middle" fill="#000" >150</text>
<line x1="679.13" y1="657.8" x2="679.13" y2="661.3" stroke="#222" stroke-width="1.3"/>
<text x="679.13" y="678.40" font-size="13.8" text-anchor="middle" fill="#000" >300</text>
<line x1="722.80" y1="657.8" x2="722.80" y2="661.3" stroke="#222" stroke-width="1.3"/>
<text x="722.80" y="678.40" font-size="13.8" text-anchor="middle" fill="#000" >450</text>
<text x="662.80" y="700.60" font-size="13.8" text-anchor="middle" fill="#000" >[drug] (nM)</text>
<text x="665.7" y="497.1" font-size="13.8" text-anchor="middle">HCT116 + si<tspan font-style="italic">TP53</tspan></text>
<text x="0" y="0" font-size="13.8" text-anchor="middle" transform="translate(535.5,586.0) rotate(-90)">Fraction increase</text>
<text x="0" y="0" font-size="13.8" text-anchor="middle" transform="translate(550.5,586.0) rotate(-90)">low CDK2 activity</text>
<line x1="618.6" y1="513.2" x2="633.2" y2="513.2" stroke="#4a7ab8" stroke-width="2.8"/>
<text x="640.50" y="517.60" font-size="12.2" text-anchor="start" fill="#000" >Palbociclib</text>
<line x1="618.6" y1="530.5" x2="633.2" y2="530.5" stroke="#22bb55" stroke-width="2.8"/>
<text x="640.50" y="534.90" font-size="12.2" text-anchor="start" fill="#000" >Crizotinib</text>
<line x1="618.6" y1="547.9" x2="633.2" y2="547.9" stroke="#e03434" stroke-width="2.8"/>
<text x="640.50" y="552.30" font-size="12.2" text-anchor="start" fill="#000" >Combined</text>
<path d="M728.3,574.4H731.3V624.5H728.3" fill="none" stroke="#333" stroke-width="1.2"/>
<path d="M740.1,574.4H742.7V637H740.1" fill="none" stroke="#333" stroke-width="1.2"/>
<text x="0" y="0" font-size="13.8" text-anchor="middle" transform="translate(730.4,602.3) rotate(90)">****</text>
<text x="0" y="0" font-size="13.8" text-anchor="middle" transform="translate(745.0,605.2) rotate(90)">****</text>
<line x1="365.2" y1="846.50" x2="517.2" y2="846.50" stroke="#c4c4c4" stroke-width="1.2"/>
<path d="M365.2,772V917.5H517.2" fill="none" stroke="#222" stroke-width="1.4"/>
<line x1="361.7" y1="917.50" x2="365.2" y2="917.50" stroke="#222" stroke-width="1.2"/>
<text x="353.50" y="923.00" font-size="13.8" text-anchor="end" fill="#000" >0</text>
<line x1="361.7" y1="881.70" x2="365.2" y2="881.70" stroke="#222" stroke-width="1.2"/>
<text x="353.50" y="887.20" font-size="13.8" text-anchor="end" fill="#000" >0.5</text>
<line x1="361.7" y1="845.90" x2="365.2" y2="845.90" stroke="#222" stroke-width="1.2"/>
<text x="353.50" y="851.40" font-size="13.8" text-anchor="end" fill="#000" >1.0</text>
<line x1="361.7" y1="810.10" x2="365.2" y2="810.10" stroke="#222" stroke-width="1.2"/>
<text x="353.50" y="815.60" font-size="13.8" text-anchor="end" fill="#000" >1.5</text>
<line x1="361.7" y1="774.30" x2="365.2" y2="774.30" stroke="#222" stroke-width="1.2"/>
<text x="353.50" y="779.80" font-size="13.8" text-anchor="end" fill="#000" >2.0</text>
<line x1="365.20" y1="914.7" x2="365.20" y2="917.5" stroke="#222" stroke-width="1.2"/>
<text x="365.20" y="938.70" font-size="13.8" text-anchor="middle" fill="#000" >0</text>
<line x1="380.40" y1="914.7" x2="380.40" y2="917.5" stroke="#222" stroke-width="1.2"/>
<line x1="395.60" y1="914.7" x2="395.60" y2="917.5" stroke="#222" stroke-width="1.2"/>
<text x="395.60" y="938.70" font-size="13.8" text-anchor="middle" fill="#000" >0.2</text>
<line x1="410.80" y1="914.7" x2="410.80" y2="917.5" stroke="#222" stroke-width="1.2"/>
<line x1="426.00" y1="914.7" x2="426.00" y2="917.5" stroke="#222" stroke-width="1.2"/>
<text x="426.00" y="938.70" font-size="13.8" text-anchor="middle" fill="#000" >0.4</text>
<line x1="441.20" y1="914.7" x2="441.20" y2="917.5" stroke="#222" stroke-width="1.2"/>
<line x1="456.40" y1="914.7" x2="456.40" y2="917.5" stroke="#222" stroke-width="1.2"/>
<text x="456.40" y="938.70" font-size="13.8" text-anchor="middle" fill="#000" >0.6</text>
<line x1="471.60" y1="914.7" x2="471.60" y2="917.5" stroke="#222" stroke-width="1.2"/>
<line x1="486.80" y1="914.7" x2="486.80" y2="917.5" stroke="#222" stroke-width="1.2"/>
<text x="486.80" y="938.70" font-size="13.8" text-anchor="middle" fill="#000" >0.8</text>
<line x1="502.00" y1="914.7" x2="502.00" y2="917.5" stroke="#222" stroke-width="1.2"/>
<line x1="517.20" y1="914.7" x2="517.20" y2="917.5" stroke="#222" stroke-width="1.2"/>
<text x="517.20" y="938.70" font-size="13.8" text-anchor="middle" fill="#000" >1.0</text>
<text x="442.50" y="756.30" font-size="13.8" text-anchor="middle" fill="#000" >HCT116 + siNT</text>
<text x="0" y="0" font-size="13" text-anchor="middle" transform="translate(325.3,846.3) rotate(-90)">CI</text>
<text x="442.3" y="957.8" font-size="13.8">F<tspan font-size="10.3" dy="3.6">a</tspan></text>
<text x="436.20" y="831.40" font-size="12.2" text-anchor="start" fill="#000" >antagonism</text>
<text x="440.00" y="863.30" font-size="12.2" text-anchor="start" fill="#000" >synergism</text>
<path d="M514,833.6 V806.2 M508.1,817.2 L514,806.2 L519.9,817.2" fill="none" stroke="#000" stroke-width="1.7" stroke-linejoin="miter"/>
<path d="M514,855.2 V880.3 M508.1,869.3 L514,880.3 L519.9,869.3" fill="none" stroke="#000" stroke-width="1.7" stroke-linejoin="miter"/>
<path d="M372.4,870.2 L376.0,875.5 L379.9,879.6 L384.0,883.0 L388.3,885.9 L393.0,888.5 L399.0,890.8 L408.0,893.6 L418.0,896.1 L428.0,898.3 L439.3,900.3 L460.5,903.5 L481.7,906.7 L503.0,910.3 L513.5,913.0" fill="none" stroke="#5555dd" stroke-width="1.1"/>
<circle cx="380.3" cy="868.1" r="2.8" fill="none" stroke="#7777ee" stroke-width="1"/>
<circle cx="383" cy="897.8" r="2.8" fill="none" stroke="#7777ee" stroke-width="1"/>
<circle cx="387.9" cy="878.5" r="2.8" fill="none" stroke="#7777ee" stroke-width="1"/>
<circle cx="391.5" cy="875.5" r="2.8" fill="none" stroke="#7777ee" stroke-width="1"/>
<circle cx="404.9" cy="887.2" r="2.8" fill="none" stroke="#7777ee" stroke-width="1"/>
<circle cx="405.3" cy="893.5" r="2.8" fill="none" stroke="#7777ee" stroke-width="1"/>
<circle cx="420.6" cy="900.3" r="2.8" fill="none" stroke="#7777ee" stroke-width="1"/>
<circle cx="428.7" cy="901.4" r="2.8" fill="none" stroke="#7777ee" stroke-width="1"/>
<circle cx="437.6" cy="907.8" r="2.8" fill="none" stroke="#7777ee" stroke-width="1"/>
<line x1="578.4" y1="846.10" x2="733.9" y2="846.10" stroke="#c4c4c4" stroke-width="1.2"/>
<path d="M578.4,773V917.2H733.9" fill="none" stroke="#222" stroke-width="1.4"/>
<line x1="574.9" y1="917.20" x2="578.4" y2="917.20" stroke="#222" stroke-width="1.2"/>
<text x="571.50" y="922.70" font-size="13.8" text-anchor="end" fill="#000" >0</text>
<line x1="574.9" y1="881.70" x2="578.4" y2="881.70" stroke="#222" stroke-width="1.2"/>
<text x="571.50" y="887.20" font-size="13.8" text-anchor="end" fill="#000" >0.5</text>
<line x1="574.9" y1="846.20" x2="578.4" y2="846.20" stroke="#222" stroke-width="1.2"/>
<text x="571.50" y="851.70" font-size="13.8" text-anchor="end" fill="#000" >1.0</text>
<line x1="574.9" y1="810.70" x2="578.4" y2="810.70" stroke="#222" stroke-width="1.2"/>
<text x="571.50" y="816.20" font-size="13.8" text-anchor="end" fill="#000" >1.5</text>
<line x1="574.9" y1="775.20" x2="578.4" y2="775.20" stroke="#222" stroke-width="1.2"/>
<text x="571.50" y="780.70" font-size="13.8" text-anchor="end" fill="#000" >2.0</text>
<line x1="578.40" y1="914.4000000000001" x2="578.40" y2="917.2" stroke="#222" stroke-width="1.2"/>
<text x="578.40" y="938.40" font-size="13.8" text-anchor="middle" fill="#000" >0</text>
<line x1="593.95" y1="914.4000000000001" x2="593.95" y2="917.2" stroke="#222" stroke-width="1.2"/>
<line x1="609.50" y1="914.4000000000001" x2="609.50" y2="917.2" stroke="#222" stroke-width="1.2"/>
<text x="609.50" y="938.40" font-size="13.8" text-anchor="middle" fill="#000" >0.2</text>
<line x1="625.05" y1="914.4000000000001" x2="625.05" y2="917.2" stroke="#222" stroke-width="1.2"/>
<line x1="640.60" y1="914.4000000000001" x2="640.60" y2="917.2" stroke="#222" stroke-width="1.2"/>
<text x="640.60" y="938.40" font-size="13.8" text-anchor="middle" fill="#000" >0.4</text>
<line x1="656.15" y1="914.4000000000001" x2="656.15" y2="917.2" stroke="#222" stroke-width="1.2"/>
<line x1="671.70" y1="914.4000000000001" x2="671.70" y2="917.2" stroke="#222" stroke-width="1.2"/>
<text x="671.70" y="938.40" font-size="13.8" text-anchor="middle" fill="#000" >0.6</text>
<line x1="687.25" y1="914.4000000000001" x2="687.25" y2="917.2" stroke="#222" stroke-width="1.2"/>
<line x1="702.80" y1="914.4000000000001" x2="702.80" y2="917.2" stroke="#222" stroke-width="1.2"/>
<text x="702.80" y="938.40" font-size="13.8" text-anchor="middle" fill="#000" >0.8</text>
<line x1="718.35" y1="914.4000000000001" x2="718.35" y2="917.2" stroke="#222" stroke-width="1.2"/>
<line x1="733.90" y1="914.4000000000001" x2="733.90" y2="917.2" stroke="#222" stroke-width="1.2"/>
<text x="733.90" y="938.40" font-size="13.8" text-anchor="middle" fill="#000" >1.0</text>
<text x="658.2" y="756.4" font-size="13.8" text-anchor="middle">HCT116 + si<tspan font-style="italic">TP53</tspan></text>
<text x="0" y="0" font-size="13" text-anchor="middle" transform="translate(547.2,845.9) rotate(-90)">CI</text>
<text x="656.0" y="955.9" font-size="13.8">F<tspan font-size="10.3" dy="3.6">a</tspan></text>
<text x="663.50" y="831.40" font-size="12.2" text-anchor="start" fill="#000" >antagonism</text>
<text x="667.20" y="863.30" font-size="12.2" text-anchor="start" fill="#000" >synergism</text>
<path d="M742.3,833.6 V806.2 M736.4,817.2 L742.3,806.2 L748.1999999999999,817.2" fill="none" stroke="#000" stroke-width="1.7" stroke-linejoin="miter"/>
<path d="M742.3,855.2 V880.3 M736.4,869.3 L742.3,880.3 L748.1999999999999,869.3" fill="none" stroke="#000" stroke-width="1.7" stroke-linejoin="miter"/>
<path d="M589.7,894.1 L595.0,897.5 L600.0,900.2 L605.0,902.3 L611.0,904.1 L625.0,906.0 L639.3,907.5 L667.7,909.7 L696.1,911.7 L715.0,913.0 L730.2,914.6" fill="none" stroke="#5555dd" stroke-width="1.1"/>
<circle cx="583.4" cy="862.6" r="2.8" fill="none" stroke="#7777ee" stroke-width="1"/>
<circle cx="584.6" cy="882.8" r="2.8" fill="none" stroke="#7777ee" stroke-width="1"/>
<circle cx="582" cy="897" r="2.8" fill="none" stroke="#7777ee" stroke-width="1"/>
<circle cx="584.8" cy="898.1" r="2.8" fill="none" stroke="#7777ee" stroke-width="1"/>
<circle cx="589.7" cy="895.3" r="2.8" fill="none" stroke="#7777ee" stroke-width="1"/>
<circle cx="589.7" cy="891" r="2.8" fill="none" stroke="#7777ee" stroke-width="1"/>
<circle cx="592" cy="891" r="2.8" fill="none" stroke="#7777ee" stroke-width="1"/>
<circle cx="605.3" cy="908" r="2.8" fill="none" stroke="#7777ee" stroke-width="1"/>
<circle cx="615.2" cy="911.2" r="2.8" fill="none" stroke="#7777ee" stroke-width="1"/>
</svg>
</body></html>
